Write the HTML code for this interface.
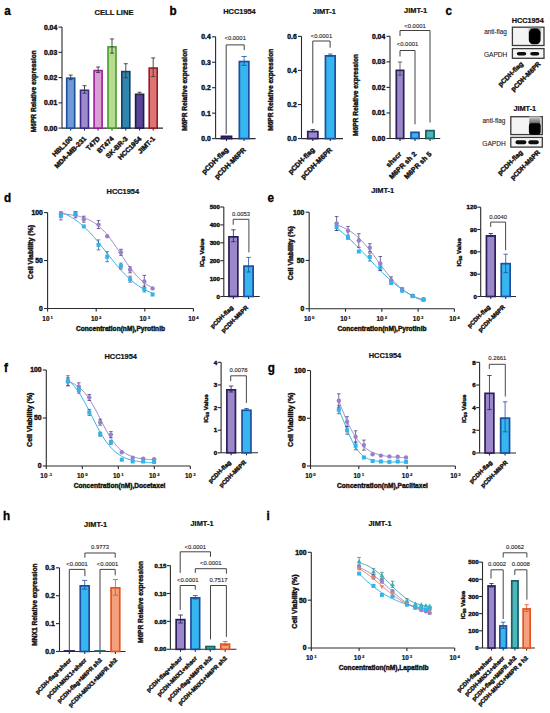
<!DOCTYPE html>
<html><head><meta charset="utf-8"><style>
html,body{margin:0;padding:0;background:#fff;overflow:hidden;}
svg{display:block;}
text{font-family:"Liberation Sans",sans-serif;}
</style></head><body>
<svg width="550" height="713" viewBox="0 0 550 713">
<rect width="550" height="713" fill="#fff"/>
<text transform="translate(4.20,14.50) scale(0.96,1)" font-size="12.2" font-weight="bold" fill="#000" stroke="#000" stroke-width="0.3">a</text>
<text x="114.00" y="14.54" font-size="7.6" font-weight="bold" text-anchor="middle" fill="#111" stroke="#111" stroke-width="0.22">CELL LINE</text>
<line x1="62.00" y1="27.10" x2="62.00" y2="128.10" stroke="#2a2a2a" stroke-width="1.1"/>
<line x1="58.50" y1="27.10" x2="62.00" y2="27.10" stroke="#2a2a2a" stroke-width="1.1"/>
<text x="57.20" y="29.55" font-size="6.8" font-weight="bold" text-anchor="end" fill="#111" stroke="#111" stroke-width="0.4">0.04</text>
<line x1="58.50" y1="52.35" x2="62.00" y2="52.35" stroke="#2a2a2a" stroke-width="1.1"/>
<text x="57.20" y="54.80" font-size="6.8" font-weight="bold" text-anchor="end" fill="#111" stroke="#111" stroke-width="0.4">0.03</text>
<line x1="58.50" y1="77.60" x2="62.00" y2="77.60" stroke="#2a2a2a" stroke-width="1.1"/>
<text x="57.20" y="80.05" font-size="6.8" font-weight="bold" text-anchor="end" fill="#111" stroke="#111" stroke-width="0.4">0.02</text>
<line x1="58.50" y1="102.85" x2="62.00" y2="102.85" stroke="#2a2a2a" stroke-width="1.1"/>
<text x="57.20" y="105.30" font-size="6.8" font-weight="bold" text-anchor="end" fill="#111" stroke="#111" stroke-width="0.4">0.01</text>
<line x1="58.50" y1="128.10" x2="62.00" y2="128.10" stroke="#2a2a2a" stroke-width="1.1"/>
<text x="57.20" y="130.55" font-size="6.8" font-weight="bold" text-anchor="end" fill="#111" stroke="#111" stroke-width="0.4">0.00</text>
<text x="36.38" y="91.20" font-size="6.6" font-weight="bold" text-anchor="middle" fill="#111" stroke="#111" stroke-width="0.4" transform="rotate(-90 36.38 91.20)">M6PR Relative expression</text>
<line x1="62.00" y1="128.10" x2="163.00" y2="128.10" stroke="#2a2a2a" stroke-width="1.1"/>
<line x1="70.70" y1="128.10" x2="70.70" y2="130.60" stroke="#2a2a2a" stroke-width="1.1"/>
<line x1="84.50" y1="128.10" x2="84.50" y2="130.60" stroke="#2a2a2a" stroke-width="1.1"/>
<line x1="98.10" y1="128.10" x2="98.10" y2="130.60" stroke="#2a2a2a" stroke-width="1.1"/>
<line x1="112.00" y1="128.10" x2="112.00" y2="130.60" stroke="#2a2a2a" stroke-width="1.1"/>
<line x1="125.80" y1="128.10" x2="125.80" y2="130.60" stroke="#2a2a2a" stroke-width="1.1"/>
<line x1="139.60" y1="128.10" x2="139.60" y2="130.60" stroke="#2a2a2a" stroke-width="1.1"/>
<line x1="153.20" y1="128.10" x2="153.20" y2="130.60" stroke="#2a2a2a" stroke-width="1.1"/>
<rect x="66.70" y="78.15" width="8.00" height="49.95" fill="#6e9ad6" stroke="#1f4e9c" stroke-width="1.6"/>
<line x1="70.70" y1="75.07" x2="70.70" y2="79.62" stroke="#3a3a3a" stroke-width="0.9"/>
<line x1="68.70" y1="75.07" x2="72.70" y2="75.07" stroke="#3a3a3a" stroke-width="0.9"/>
<line x1="68.70" y1="79.62" x2="72.70" y2="79.62" stroke="#3a3a3a" stroke-width="0.9"/>
<rect x="80.50" y="90.27" width="8.00" height="37.83" fill="#9d8ccb" stroke="#3a2a8a" stroke-width="1.6"/>
<line x1="84.50" y1="85.68" x2="84.50" y2="93.25" stroke="#3a3a3a" stroke-width="0.9"/>
<line x1="82.50" y1="85.68" x2="86.50" y2="85.68" stroke="#3a3a3a" stroke-width="0.9"/>
<line x1="82.50" y1="93.25" x2="86.50" y2="93.25" stroke="#3a3a3a" stroke-width="0.9"/>
<rect x="94.10" y="70.57" width="8.00" height="57.53" fill="#d99fd5" stroke="#9a1c9a" stroke-width="1.6"/>
<line x1="98.10" y1="67.00" x2="98.10" y2="72.55" stroke="#3a3a3a" stroke-width="0.9"/>
<line x1="96.10" y1="67.00" x2="100.10" y2="67.00" stroke="#3a3a3a" stroke-width="0.9"/>
<line x1="96.10" y1="72.55" x2="100.10" y2="72.55" stroke="#3a3a3a" stroke-width="0.9"/>
<rect x="108.00" y="46.84" width="8.00" height="81.26" fill="#b6dc90" stroke="#4a9a2e" stroke-width="1.6"/>
<line x1="112.00" y1="38.97" x2="112.00" y2="53.11" stroke="#3a3a3a" stroke-width="0.9"/>
<line x1="110.00" y1="38.97" x2="114.00" y2="38.97" stroke="#3a3a3a" stroke-width="0.9"/>
<line x1="110.00" y1="53.11" x2="114.00" y2="53.11" stroke="#3a3a3a" stroke-width="0.9"/>
<rect x="121.80" y="71.58" width="8.00" height="56.52" fill="#3186ad" stroke="#163f62" stroke-width="1.6"/>
<line x1="125.80" y1="63.71" x2="125.80" y2="77.85" stroke="#3a3a3a" stroke-width="0.9"/>
<line x1="123.80" y1="63.71" x2="127.80" y2="63.71" stroke="#3a3a3a" stroke-width="0.9"/>
<line x1="123.80" y1="77.85" x2="127.80" y2="77.85" stroke="#3a3a3a" stroke-width="0.9"/>
<rect x="135.60" y="94.31" width="8.00" height="33.79" fill="#5a4494" stroke="#241858" stroke-width="1.6"/>
<line x1="139.60" y1="92.24" x2="139.60" y2="94.77" stroke="#3a3a3a" stroke-width="0.9"/>
<line x1="137.60" y1="92.24" x2="141.60" y2="92.24" stroke="#3a3a3a" stroke-width="0.9"/>
<line x1="137.60" y1="94.77" x2="141.60" y2="94.77" stroke="#3a3a3a" stroke-width="0.9"/>
<rect x="149.20" y="68.05" width="8.00" height="60.05" fill="#e07474" stroke="#9a1a22" stroke-width="1.6"/>
<line x1="153.20" y1="57.91" x2="153.20" y2="76.59" stroke="#3a3a3a" stroke-width="0.9"/>
<line x1="151.20" y1="57.91" x2="155.20" y2="57.91" stroke="#3a3a3a" stroke-width="0.9"/>
<line x1="151.20" y1="76.59" x2="155.20" y2="76.59" stroke="#3a3a3a" stroke-width="0.9"/>
<text x="73.00" y="139.20" font-size="6.8" font-weight="bold" text-anchor="end" fill="#111" stroke="#111" stroke-width="0.4" transform="rotate(-45 73.00 139.20)">HBL100</text>
<text x="86.80" y="139.20" font-size="6.8" font-weight="bold" text-anchor="end" fill="#111" stroke="#111" stroke-width="0.4" transform="rotate(-45 86.80 139.20)">MDA-MB-231</text>
<text x="100.40" y="139.20" font-size="6.8" font-weight="bold" text-anchor="end" fill="#111" stroke="#111" stroke-width="0.4" transform="rotate(-45 100.40 139.20)">T47D</text>
<text x="114.30" y="139.20" font-size="6.8" font-weight="bold" text-anchor="end" fill="#111" stroke="#111" stroke-width="0.4" transform="rotate(-45 114.30 139.20)">BT474</text>
<text x="128.10" y="139.20" font-size="6.8" font-weight="bold" text-anchor="end" fill="#111" stroke="#111" stroke-width="0.4" transform="rotate(-45 128.10 139.20)">SK-BR-3</text>
<text x="141.90" y="139.20" font-size="6.8" font-weight="bold" text-anchor="end" fill="#111" stroke="#111" stroke-width="0.4" transform="rotate(-45 141.90 139.20)">HCC1954</text>
<text x="155.50" y="139.20" font-size="6.8" font-weight="bold" text-anchor="end" fill="#111" stroke="#111" stroke-width="0.4" transform="rotate(-45 155.50 139.20)">JIMT-1</text>
<text transform="translate(169.50,14.50) scale(0.96,1)" font-size="12.2" font-weight="bold" fill="#000" stroke="#000" stroke-width="0.3">b</text>
<text x="239.50" y="14.46" font-size="7.4" font-weight="bold" text-anchor="middle" fill="#111" stroke="#111" stroke-width="0.22">HCC1954</text>
<line x1="215.60" y1="36.80" x2="215.60" y2="138.60" stroke="#2a2a2a" stroke-width="1.1"/>
<line x1="212.10" y1="36.80" x2="215.60" y2="36.80" stroke="#2a2a2a" stroke-width="1.1"/>
<text x="210.80" y="39.25" font-size="6.8" font-weight="bold" text-anchor="end" fill="#111" stroke="#111" stroke-width="0.4">0.4</text>
<line x1="212.10" y1="62.25" x2="215.60" y2="62.25" stroke="#2a2a2a" stroke-width="1.1"/>
<text x="210.80" y="64.70" font-size="6.8" font-weight="bold" text-anchor="end" fill="#111" stroke="#111" stroke-width="0.4">0.3</text>
<line x1="212.10" y1="87.70" x2="215.60" y2="87.70" stroke="#2a2a2a" stroke-width="1.1"/>
<text x="210.80" y="90.15" font-size="6.8" font-weight="bold" text-anchor="end" fill="#111" stroke="#111" stroke-width="0.4">0.2</text>
<line x1="212.10" y1="113.15" x2="215.60" y2="113.15" stroke="#2a2a2a" stroke-width="1.1"/>
<text x="210.80" y="115.60" font-size="6.8" font-weight="bold" text-anchor="end" fill="#111" stroke="#111" stroke-width="0.4">0.1</text>
<line x1="212.10" y1="138.60" x2="215.60" y2="138.60" stroke="#2a2a2a" stroke-width="1.1"/>
<text x="210.80" y="141.05" font-size="6.8" font-weight="bold" text-anchor="end" fill="#111" stroke="#111" stroke-width="0.4">0.0</text>
<text x="186.78" y="89.80" font-size="6.6" font-weight="bold" text-anchor="middle" fill="#111" stroke="#111" stroke-width="0.4" transform="rotate(-90 186.78 89.80)">M6PR Relative expression</text>
<line x1="215.60" y1="138.60" x2="255.60" y2="138.60" stroke="#2a2a2a" stroke-width="1.1"/>
<line x1="226.50" y1="138.60" x2="226.50" y2="141.10" stroke="#2a2a2a" stroke-width="1.1"/>
<line x1="244.10" y1="138.60" x2="244.10" y2="141.10" stroke="#2a2a2a" stroke-width="1.1"/>
<rect x="221.45" y="136.35" width="10.10" height="2.25" fill="#4a3a8c" stroke="#231a55" stroke-width="1.7"/>
<rect x="239.35" y="61.55" width="9.50" height="77.05" fill="#36b5ee" stroke="#1d4f9f" stroke-width="1.7"/>
<line x1="244.10" y1="56.50" x2="244.10" y2="65.40" stroke="#1d4f9f" stroke-width="0.8"/>
<line x1="241.50" y1="56.50" x2="246.70" y2="56.50" stroke="#1d4f9f" stroke-width="0.8"/>
<line x1="241.50" y1="65.40" x2="246.70" y2="65.40" stroke="#1d4f9f" stroke-width="0.8"/>
<path d="M226.20,134.00 L226.20,44.90 L244.20,44.90 L244.20,50.20" stroke="#2e2e2e" stroke-width="0.9" fill="none" />
<text x="235.20" y="39.72" font-size="5.9" font-weight="normal" text-anchor="middle" fill="#222" stroke="#222" stroke-width="0.1">&lt;0.0001</text>
<text x="228.80" y="150.30" font-size="7" font-weight="bold" text-anchor="end" fill="#111" stroke="#111" stroke-width="0.4" transform="rotate(-45 228.80 150.30)">pCDH-flag</text>
<text x="246.40" y="150.30" font-size="7" font-weight="bold" text-anchor="end" fill="#111" stroke="#111" stroke-width="0.4" transform="rotate(-45 246.40 150.30)">pCDH-M6PR</text>
<text x="324.30" y="14.46" font-size="7.4" font-weight="bold" text-anchor="middle" fill="#111" stroke="#111" stroke-width="0.22">JIMT-1</text>
<line x1="301.50" y1="36.39" x2="301.50" y2="138.60" stroke="#2a2a2a" stroke-width="1.1"/>
<line x1="298.00" y1="36.39" x2="301.50" y2="36.39" stroke="#2a2a2a" stroke-width="1.1"/>
<text x="296.70" y="38.84" font-size="6.8" font-weight="bold" text-anchor="end" fill="#111" stroke="#111" stroke-width="0.4">0.6</text>
<line x1="298.00" y1="70.46" x2="301.50" y2="70.46" stroke="#2a2a2a" stroke-width="1.1"/>
<text x="296.70" y="72.91" font-size="6.8" font-weight="bold" text-anchor="end" fill="#111" stroke="#111" stroke-width="0.4">0.4</text>
<line x1="298.00" y1="104.53" x2="301.50" y2="104.53" stroke="#2a2a2a" stroke-width="1.1"/>
<text x="296.70" y="106.98" font-size="6.8" font-weight="bold" text-anchor="end" fill="#111" stroke="#111" stroke-width="0.4">0.2</text>
<line x1="298.00" y1="138.60" x2="301.50" y2="138.60" stroke="#2a2a2a" stroke-width="1.1"/>
<text x="296.70" y="141.05" font-size="6.8" font-weight="bold" text-anchor="end" fill="#111" stroke="#111" stroke-width="0.4">0.0</text>
<text x="273.08" y="89.80" font-size="6.6" font-weight="bold" text-anchor="middle" fill="#111" stroke="#111" stroke-width="0.4" transform="rotate(-90 273.08 89.80)">M6PR Relative expression</text>
<line x1="301.50" y1="138.60" x2="343.00" y2="138.60" stroke="#2a2a2a" stroke-width="1.1"/>
<line x1="312.80" y1="138.60" x2="312.80" y2="141.10" stroke="#2a2a2a" stroke-width="1.1"/>
<line x1="330.30" y1="138.60" x2="330.30" y2="141.10" stroke="#2a2a2a" stroke-width="1.1"/>
<rect x="307.75" y="131.55" width="10.10" height="7.05" fill="#9c88c8" stroke="#2b1f5c" stroke-width="1.7"/>
<line x1="312.80" y1="129.50" x2="312.80" y2="131.50" stroke="#2b1f5c" stroke-width="0.8"/>
<line x1="310.60" y1="129.50" x2="315.00" y2="129.50" stroke="#2b1f5c" stroke-width="0.8"/>
<line x1="310.60" y1="131.50" x2="315.00" y2="131.50" stroke="#2b1f5c" stroke-width="0.8"/>
<rect x="325.45" y="55.85" width="9.70" height="82.75" fill="#36b5ee" stroke="#1d4f9f" stroke-width="1.7"/>
<line x1="330.30" y1="54.00" x2="330.30" y2="56.00" stroke="#1d4f9f" stroke-width="0.8"/>
<line x1="328.10" y1="54.00" x2="332.50" y2="54.00" stroke="#1d4f9f" stroke-width="0.8"/>
<line x1="328.10" y1="56.00" x2="332.50" y2="56.00" stroke="#1d4f9f" stroke-width="0.8"/>
<path d="M312.80,123.40 L312.80,41.00 L330.10,41.00 L330.10,47.70" stroke="#2e2e2e" stroke-width="0.9" fill="none" />
<text x="321.45" y="37.52" font-size="5.9" font-weight="normal" text-anchor="middle" fill="#222" stroke="#222" stroke-width="0.1">&lt;0.0001</text>
<text x="315.10" y="150.30" font-size="7" font-weight="bold" text-anchor="end" fill="#111" stroke="#111" stroke-width="0.4" transform="rotate(-45 315.10 150.30)">pCDH-flag</text>
<text x="332.60" y="150.30" font-size="7" font-weight="bold" text-anchor="end" fill="#111" stroke="#111" stroke-width="0.4" transform="rotate(-45 332.60 150.30)">pCDH-M6PR</text>
<text x="415.60" y="13.26" font-size="7.4" font-weight="bold" text-anchor="middle" fill="#111" stroke="#111" stroke-width="0.22">JIMT-1</text>
<line x1="390.00" y1="36.30" x2="390.00" y2="138.50" stroke="#2a2a2a" stroke-width="1.1"/>
<line x1="386.50" y1="36.30" x2="390.00" y2="36.30" stroke="#2a2a2a" stroke-width="1.1"/>
<text x="385.20" y="38.75" font-size="6.8" font-weight="bold" text-anchor="end" fill="#111" stroke="#111" stroke-width="0.4">0.04</text>
<line x1="386.50" y1="61.85" x2="390.00" y2="61.85" stroke="#2a2a2a" stroke-width="1.1"/>
<text x="385.20" y="64.30" font-size="6.8" font-weight="bold" text-anchor="end" fill="#111" stroke="#111" stroke-width="0.4">0.03</text>
<line x1="386.50" y1="87.40" x2="390.00" y2="87.40" stroke="#2a2a2a" stroke-width="1.1"/>
<text x="385.20" y="89.85" font-size="6.8" font-weight="bold" text-anchor="end" fill="#111" stroke="#111" stroke-width="0.4">0.02</text>
<line x1="386.50" y1="112.95" x2="390.00" y2="112.95" stroke="#2a2a2a" stroke-width="1.1"/>
<text x="385.20" y="115.40" font-size="6.8" font-weight="bold" text-anchor="end" fill="#111" stroke="#111" stroke-width="0.4">0.01</text>
<line x1="386.50" y1="138.50" x2="390.00" y2="138.50" stroke="#2a2a2a" stroke-width="1.1"/>
<text x="385.20" y="140.95" font-size="6.8" font-weight="bold" text-anchor="end" fill="#111" stroke="#111" stroke-width="0.4">0.00</text>
<text x="357.58" y="94.90" font-size="6.6" font-weight="bold" text-anchor="middle" fill="#111" stroke="#111" stroke-width="0.4" transform="rotate(-90 357.58 94.90)">M6PR Relative expression</text>
<line x1="390.00" y1="138.50" x2="440.20" y2="138.50" stroke="#2a2a2a" stroke-width="1.1"/>
<line x1="400.00" y1="138.50" x2="400.00" y2="141.00" stroke="#2a2a2a" stroke-width="1.1"/>
<line x1="415.00" y1="138.50" x2="415.00" y2="141.00" stroke="#2a2a2a" stroke-width="1.1"/>
<line x1="430.00" y1="138.50" x2="430.00" y2="141.00" stroke="#2a2a2a" stroke-width="1.1"/>
<rect x="396.30" y="70.36" width="7.40" height="68.14" fill="#9c88c8" stroke="#2b1f5c" stroke-width="1.7"/>
<line x1="400.00" y1="62.00" x2="400.00" y2="75.10" stroke="#444" stroke-width="0.8"/>
<line x1="397.80" y1="62.00" x2="402.20" y2="62.00" stroke="#444" stroke-width="0.8"/>
<line x1="397.80" y1="75.10" x2="402.20" y2="75.10" stroke="#444" stroke-width="0.8"/>
<rect x="411.00" y="132.35" width="8.00" height="6.15" fill="#36b5ee" stroke="#1d4f9f" stroke-width="1.7"/>
<rect x="425.90" y="130.65" width="8.20" height="7.85" fill="#4cb6b8" stroke="#1b5f66" stroke-width="1.7"/>
<path d="M400.00,56.50 L400.00,50.50 L415.00,50.50 L415.00,124.30" stroke="#2e2e2e" stroke-width="0.9" fill="none" />
<text x="407.50" y="46.22" font-size="5.9" font-weight="normal" text-anchor="middle" fill="#222" stroke="#222" stroke-width="0.1">&lt;0.0001</text>
<path d="M400.00,36.00 L400.00,30.50 L430.00,30.50 L430.00,122.50" stroke="#2e2e2e" stroke-width="0.9" fill="none" />
<text x="415.00" y="28.42" font-size="5.9" font-weight="normal" text-anchor="middle" fill="#222" stroke="#222" stroke-width="0.1">&lt;0.0001</text>
<text x="402.00" y="154.50" font-size="7" font-weight="bold" text-anchor="end" fill="#111" stroke="#111" stroke-width="0.4" transform="rotate(-45 402.00 154.50)">shscr</text>
<text x="417.00" y="154.50" font-size="7" font-weight="bold" text-anchor="end" fill="#111" stroke="#111" stroke-width="0.4" transform="rotate(-45 417.00 154.50)">M6PR sh 2</text>
<text x="432.00" y="154.50" font-size="7" font-weight="bold" text-anchor="end" fill="#111" stroke="#111" stroke-width="0.4" transform="rotate(-45 432.00 154.50)">M6PR sh 5</text>
<text transform="translate(445.50,15.00) scale(0.96,1)" font-size="12.2" font-weight="bold" fill="#000" stroke="#000" stroke-width="0.3">c</text>
<defs><filter id="bl" x="-30%" y="-30%" width="160%" height="160%"><feGaussianBlur stdDeviation="0.6"/></filter><filter id="bl3" x="-30%" y="-30%" width="160%" height="160%"><feGaussianBlur stdDeviation="0.35"/></filter><filter id="bl2" x="-30%" y="-30%" width="160%" height="160%"><feGaussianBlur stdDeviation="1.0"/></filter><linearGradient id="sm" x1="0" y1="0" x2="0" y2="1"><stop offset="0" stop-color="#cfcfcf"/><stop offset="0.6" stop-color="#777"/><stop offset="1" stop-color="#222"/></linearGradient></defs>
<text x="527.70" y="22.83" font-size="7.3" font-weight="bold" text-anchor="middle" fill="#111" stroke="#111" stroke-width="0.22">HCC1954</text>
<rect x="512.40" y="27.20" width="31.60" height="18.30" fill="#f4f4f4" stroke="#3a3a3a" stroke-width="1.3"/>
<rect x="512.40" y="48.60" width="31.60" height="9.70" fill="#f4f4f4" stroke="#3a3a3a" stroke-width="1.3"/>
<rect x="529.4" y="27" width="11" height="7" fill="#888" filter="url(#bl2)"/><rect x="528.8" y="28.6" width="11.8" height="15.6" rx="4.5" ry="4.5" fill="#050505" filter="url(#bl)"/>
<rect x="516.80" y="52.00" width="9.50" height="3.40" rx="2.2" ry="1.7" fill="#0a0a0a" filter="url(#bl3)"/>
<rect x="530.20" y="52.00" width="9.10" height="3.40" rx="2.2" ry="1.7" fill="#0a0a0a" filter="url(#bl3)"/>
<text x="506.90" y="33.70" font-size="6.4" font-weight="normal" text-anchor="end" fill="#222" stroke="#222" stroke-width="0.1">anti-flag</text>
<text x="507.40" y="56.68" font-size="6.6" font-weight="normal" text-anchor="end" fill="#222" stroke="#222" stroke-width="0.1">GAPDH</text>
<text x="524.80" y="110.83" font-size="7.3" font-weight="bold" text-anchor="middle" fill="#111" stroke="#111" stroke-width="0.22">JIMT-1</text>
<rect x="510.80" y="116.70" width="31.50" height="17.90" fill="#f4f4f4" stroke="#3a3a3a" stroke-width="1.3"/>
<rect x="510.80" y="137.40" width="31.50" height="9.70" fill="#f4f4f4" stroke="#3a3a3a" stroke-width="1.3"/>
<rect x="529.2" y="116.5" width="11.2" height="9.5" fill="url(#sm)" filter="url(#bl)"/><rect x="528.9" y="123.2" width="11.8" height="11.6" rx="3" ry="3" fill="#050505" filter="url(#bl)"/>
<rect x="515.50" y="140.30" width="10.80" height="3.90" rx="2.2" ry="1.7" fill="#0a0a0a" filter="url(#bl3)"/>
<rect x="528.30" y="140.30" width="10.50" height="3.90" rx="2.2" ry="1.7" fill="#0a0a0a" filter="url(#bl3)"/>
<text x="505.30" y="122.80" font-size="6.4" font-weight="normal" text-anchor="end" fill="#222" stroke="#222" stroke-width="0.1">anti-flag</text>
<text x="505.80" y="146.28" font-size="6.6" font-weight="normal" text-anchor="end" fill="#222" stroke="#222" stroke-width="0.1">GAPDH</text>
<text x="523.50" y="64.30" font-size="6.6" font-weight="bold" text-anchor="end" fill="#111" stroke="#111" stroke-width="0.4" transform="rotate(-45 523.50 64.30)">pCDH-flag</text>
<text x="541.00" y="64.30" font-size="6.6" font-weight="bold" text-anchor="end" fill="#111" stroke="#111" stroke-width="0.4" transform="rotate(-45 541.00 64.30)">pCDH-M6PR</text>
<text x="523.00" y="152.80" font-size="6.6" font-weight="bold" text-anchor="end" fill="#111" stroke="#111" stroke-width="0.4" transform="rotate(-45 523.00 152.80)">pCDH-flag</text>
<text x="540.50" y="152.80" font-size="6.6" font-weight="bold" text-anchor="end" fill="#111" stroke="#111" stroke-width="0.4" transform="rotate(-45 540.50 152.80)">pCDH-M6PR</text>
<text transform="translate(4.00,201.50) scale(0.96,1)" font-size="12.2" font-weight="bold" fill="#000" stroke="#000" stroke-width="0.3">d</text>
<text x="122.80" y="193.66" font-size="7.4" font-weight="bold" text-anchor="middle" fill="#111" stroke="#111" stroke-width="0.22">HCC1954</text>
<line x1="47.60" y1="212.60" x2="47.60" y2="308.50" stroke="#2a2a2a" stroke-width="1.1"/>
<line x1="44.10" y1="212.60" x2="47.60" y2="212.60" stroke="#2a2a2a" stroke-width="1.1"/>
<text x="42.80" y="215.05" font-size="6.8" font-weight="bold" text-anchor="end" fill="#111" stroke="#111" stroke-width="0.4">100</text>
<line x1="44.10" y1="260.55" x2="47.60" y2="260.55" stroke="#2a2a2a" stroke-width="1.1"/>
<text x="42.80" y="263.00" font-size="6.8" font-weight="bold" text-anchor="end" fill="#111" stroke="#111" stroke-width="0.4">50</text>
<line x1="44.10" y1="308.50" x2="47.60" y2="308.50" stroke="#2a2a2a" stroke-width="1.1"/>
<text x="42.80" y="310.95" font-size="6.8" font-weight="bold" text-anchor="end" fill="#111" stroke="#111" stroke-width="0.4">0</text>
<line x1="47.60" y1="308.50" x2="193.40" y2="308.50" stroke="#2a2a2a" stroke-width="1.1"/>
<line x1="47.60" y1="308.50" x2="47.60" y2="311.50" stroke="#2a2a2a" stroke-width="1.1"/>
<line x1="96.20" y1="308.50" x2="96.20" y2="311.50" stroke="#2a2a2a" stroke-width="1.1"/>
<line x1="144.80" y1="308.50" x2="144.80" y2="311.50" stroke="#2a2a2a" stroke-width="1.1"/>
<line x1="193.40" y1="308.50" x2="193.40" y2="311.50" stroke="#2a2a2a" stroke-width="1.1"/>
<text x="42.35" y="321.40" font-size="6.4" font-weight="bold" fill="#111" stroke="#111" stroke-width="0.2">10</text>
<text x="50.46" y="319.00" font-size="4.3" font-weight="bold" fill="#111" stroke="#111" stroke-width="0.15">1</text>
<text x="90.95" y="321.40" font-size="6.4" font-weight="bold" fill="#111" stroke="#111" stroke-width="0.2">10</text>
<text x="99.06" y="319.00" font-size="4.3" font-weight="bold" fill="#111" stroke="#111" stroke-width="0.15">2</text>
<text x="139.55" y="321.40" font-size="6.4" font-weight="bold" fill="#111" stroke="#111" stroke-width="0.2">10</text>
<text x="147.66" y="319.00" font-size="4.3" font-weight="bold" fill="#111" stroke="#111" stroke-width="0.15">3</text>
<text x="188.15" y="321.40" font-size="6.4" font-weight="bold" fill="#111" stroke="#111" stroke-width="0.2">10</text>
<text x="196.26" y="319.00" font-size="4.3" font-weight="bold" fill="#111" stroke="#111" stroke-width="0.15">4</text>
<text x="32.82" y="252.00" font-size="7.0" font-weight="bold" text-anchor="middle" fill="#111" stroke="#111" stroke-width="0.4" transform="rotate(-90 32.82 252.00)">Cell Viability (%)</text>
<text x="120.50" y="331.38" font-size="6.6" font-weight="bold" text-anchor="middle" fill="#111" stroke="#111" stroke-width="0.4">Concentration(nM),Pyrotinib</text>
<path d="M60.90,213.81 L62.06,213.90 L63.22,213.99 L64.38,214.08 L65.54,214.19 L66.70,214.30 L67.86,214.43 L69.03,214.56 L70.19,214.71 L71.35,214.87 L72.51,215.05 L73.67,215.24 L74.83,215.44 L75.99,215.67 L77.15,215.91 L78.31,216.17 L79.47,216.46 L80.63,216.76 L81.79,217.10 L82.95,217.46 L84.12,217.85 L85.28,218.27 L86.44,218.72 L87.60,219.21 L88.76,219.74 L89.92,220.31 L91.08,220.92 L92.24,221.57 L93.40,222.27 L94.56,223.02 L95.72,223.82 L96.88,224.67 L98.04,225.58 L99.21,226.54 L100.37,227.56 L101.53,228.64 L102.69,229.78 L103.85,230.98 L105.01,232.24 L106.17,233.55 L107.33,234.93 L108.49,236.36 L109.65,237.85 L110.81,239.38 L111.97,240.97 L113.13,242.60 L114.29,244.27 L115.46,245.97 L116.62,247.70 L117.78,249.45 L118.94,251.22 L120.10,253.00 L121.26,254.78 L122.42,256.56 L123.58,258.32 L124.74,260.07 L125.90,261.80 L127.06,263.49 L128.22,265.15 L129.38,266.77 L130.55,268.35 L131.71,269.88 L132.87,271.35 L134.03,272.77 L135.19,274.14 L136.35,275.44 L137.51,276.69 L138.67,277.87 L139.83,279.00 L140.99,280.07 L142.15,281.08 L143.31,282.03 L144.47,282.92 L145.64,283.76 L146.80,284.55 L147.96,285.29 L149.12,285.98 L150.28,286.63 L151.44,287.23 L152.60,287.79" stroke="#a08acb" stroke-width="1.0" fill="none" />
<path d="M60.90,212.14 L62.06,212.60 L63.22,213.08 L64.38,213.59 L65.54,214.13 L66.70,214.70 L67.86,215.29 L69.03,215.91 L70.19,216.55 L71.35,217.23 L72.51,217.94 L73.67,218.68 L74.83,219.46 L75.99,220.26 L77.15,221.10 L78.31,221.98 L79.47,222.88 L80.63,223.83 L81.79,224.80 L82.95,225.82 L84.12,226.86 L85.28,227.95 L86.44,229.06 L87.60,230.21 L88.76,231.39 L89.92,232.61 L91.08,233.85 L92.24,235.12 L93.40,236.43 L94.56,237.76 L95.72,239.11 L96.88,240.49 L98.04,241.89 L99.21,243.31 L100.37,244.74 L101.53,246.19 L102.69,247.65 L103.85,249.12 L105.01,250.60 L106.17,252.08 L107.33,253.56 L108.49,255.04 L109.65,256.51 L110.81,257.98 L111.97,259.43 L113.13,260.88 L114.29,262.31 L115.46,263.72 L116.62,265.12 L117.78,266.49 L118.94,267.83 L120.10,269.16 L121.26,270.45 L122.42,271.72 L123.58,272.95 L124.74,274.16 L125.90,275.33 L127.06,276.47 L128.22,277.58 L129.38,278.65 L130.55,279.69 L131.71,280.69 L132.87,281.66 L134.03,282.59 L135.19,283.49 L136.35,284.35 L137.51,285.18 L138.67,285.98 L139.83,286.74 L140.99,287.47 L142.15,288.17 L143.31,288.84 L144.47,289.48 L145.64,290.10 L146.80,290.68 L147.96,291.23 L149.12,291.76 L150.28,292.27 L151.44,292.75 L152.60,293.20" stroke="#2bb3e3" stroke-width="1.0" fill="none" />
<line x1="60.90" y1="212.20" x2="60.90" y2="215.20" stroke="#3a2d6a" stroke-width="0.7"/>
<line x1="59.10" y1="212.20" x2="62.70" y2="212.20" stroke="#3a2d6a" stroke-width="0.7"/>
<line x1="59.10" y1="215.20" x2="62.70" y2="215.20" stroke="#3a2d6a" stroke-width="0.7"/>
<line x1="75.50" y1="211.80" x2="75.50" y2="217.80" stroke="#3a2d6a" stroke-width="0.7"/>
<line x1="73.70" y1="211.80" x2="77.30" y2="211.80" stroke="#3a2d6a" stroke-width="0.7"/>
<line x1="73.70" y1="217.80" x2="77.30" y2="217.80" stroke="#3a2d6a" stroke-width="0.7"/>
<line x1="83.80" y1="216.20" x2="83.80" y2="222.20" stroke="#3a2d6a" stroke-width="0.7"/>
<line x1="82.00" y1="216.20" x2="85.60" y2="216.20" stroke="#3a2d6a" stroke-width="0.7"/>
<line x1="82.00" y1="222.20" x2="85.60" y2="222.20" stroke="#3a2d6a" stroke-width="0.7"/>
<line x1="98.50" y1="220.60" x2="98.50" y2="228.60" stroke="#3a2d6a" stroke-width="0.7"/>
<line x1="96.70" y1="220.60" x2="100.30" y2="220.60" stroke="#3a2d6a" stroke-width="0.7"/>
<line x1="96.70" y1="228.60" x2="100.30" y2="228.60" stroke="#3a2d6a" stroke-width="0.7"/>
<line x1="120.90" y1="249.30" x2="120.90" y2="255.30" stroke="#3a2d6a" stroke-width="0.7"/>
<line x1="119.10" y1="249.30" x2="122.70" y2="249.30" stroke="#3a2d6a" stroke-width="0.7"/>
<line x1="119.10" y1="255.30" x2="122.70" y2="255.30" stroke="#3a2d6a" stroke-width="0.7"/>
<line x1="130.10" y1="266.80" x2="130.10" y2="272.80" stroke="#3a2d6a" stroke-width="0.7"/>
<line x1="128.30" y1="266.80" x2="131.90" y2="266.80" stroke="#3a2d6a" stroke-width="0.7"/>
<line x1="128.30" y1="272.80" x2="131.90" y2="272.80" stroke="#3a2d6a" stroke-width="0.7"/>
<line x1="144.30" y1="275.40" x2="144.30" y2="287.40" stroke="#3a2d6a" stroke-width="0.7"/>
<line x1="142.50" y1="275.40" x2="146.10" y2="275.40" stroke="#3a2d6a" stroke-width="0.7"/>
<line x1="142.50" y1="287.40" x2="146.10" y2="287.40" stroke="#3a2d6a" stroke-width="0.7"/>
<line x1="60.90" y1="211.90" x2="60.90" y2="219.90" stroke="#3a4a7a" stroke-width="0.7"/>
<line x1="59.10" y1="211.90" x2="62.70" y2="211.90" stroke="#3a4a7a" stroke-width="0.7"/>
<line x1="59.10" y1="219.90" x2="62.70" y2="219.90" stroke="#3a4a7a" stroke-width="0.7"/>
<line x1="75.50" y1="211.70" x2="75.50" y2="215.70" stroke="#3a4a7a" stroke-width="0.7"/>
<line x1="73.70" y1="211.70" x2="77.30" y2="211.70" stroke="#3a4a7a" stroke-width="0.7"/>
<line x1="73.70" y1="215.70" x2="77.30" y2="215.70" stroke="#3a4a7a" stroke-width="0.7"/>
<line x1="98.50" y1="239.90" x2="98.50" y2="249.90" stroke="#3a4a7a" stroke-width="0.7"/>
<line x1="96.70" y1="239.90" x2="100.30" y2="239.90" stroke="#3a4a7a" stroke-width="0.7"/>
<line x1="96.70" y1="249.90" x2="100.30" y2="249.90" stroke="#3a4a7a" stroke-width="0.7"/>
<line x1="107.20" y1="251.70" x2="107.20" y2="261.70" stroke="#3a4a7a" stroke-width="0.7"/>
<line x1="105.40" y1="251.70" x2="109.00" y2="251.70" stroke="#3a4a7a" stroke-width="0.7"/>
<line x1="105.40" y1="261.70" x2="109.00" y2="261.70" stroke="#3a4a7a" stroke-width="0.7"/>
<line x1="120.90" y1="263.10" x2="120.90" y2="269.10" stroke="#3a4a7a" stroke-width="0.7"/>
<line x1="119.10" y1="263.10" x2="122.70" y2="263.10" stroke="#3a4a7a" stroke-width="0.7"/>
<line x1="119.10" y1="269.10" x2="122.70" y2="269.10" stroke="#3a4a7a" stroke-width="0.7"/>
<line x1="130.10" y1="276.20" x2="130.10" y2="282.20" stroke="#3a4a7a" stroke-width="0.7"/>
<line x1="128.30" y1="276.20" x2="131.90" y2="276.20" stroke="#3a4a7a" stroke-width="0.7"/>
<line x1="128.30" y1="282.20" x2="131.90" y2="282.20" stroke="#3a4a7a" stroke-width="0.7"/>
<line x1="144.30" y1="286.00" x2="144.30" y2="292.00" stroke="#3a4a7a" stroke-width="0.7"/>
<line x1="142.50" y1="286.00" x2="146.10" y2="286.00" stroke="#3a4a7a" stroke-width="0.7"/>
<line x1="142.50" y1="292.00" x2="146.10" y2="292.00" stroke="#3a4a7a" stroke-width="0.7"/>
<circle cx="60.90" cy="213.70" r="2.20" fill="#9a80c8"/>
<circle cx="75.50" cy="214.80" r="2.20" fill="#9a80c8"/>
<circle cx="83.80" cy="219.20" r="2.20" fill="#9a80c8"/>
<circle cx="98.50" cy="224.60" r="2.20" fill="#9a80c8"/>
<circle cx="107.20" cy="236.20" r="2.20" fill="#9a80c8"/>
<circle cx="120.90" cy="252.30" r="2.20" fill="#9a80c8"/>
<circle cx="130.10" cy="269.80" r="2.20" fill="#9a80c8"/>
<circle cx="144.30" cy="281.40" r="2.20" fill="#9a80c8"/>
<circle cx="152.60" cy="288.40" r="2.20" fill="#9a80c8"/>
<rect x="58.90" y="213.90" width="4.00" height="4.00" fill="#31b3ec"/>
<rect x="73.50" y="211.70" width="4.00" height="4.00" fill="#31b3ec"/>
<rect x="81.80" y="224.40" width="4.00" height="4.00" fill="#31b3ec"/>
<rect x="96.50" y="242.90" width="4.00" height="4.00" fill="#31b3ec"/>
<rect x="105.20" y="254.70" width="4.00" height="4.00" fill="#31b3ec"/>
<rect x="118.90" y="264.10" width="4.00" height="4.00" fill="#31b3ec"/>
<rect x="128.10" y="277.20" width="4.00" height="4.00" fill="#31b3ec"/>
<rect x="142.30" y="287.00" width="4.00" height="4.00" fill="#31b3ec"/>
<rect x="150.60" y="292.50" width="4.00" height="4.00" fill="#31b3ec"/>
<line x1="223.80" y1="207.00" x2="223.80" y2="296.50" stroke="#2a2a2a" stroke-width="1.1"/>
<line x1="220.40" y1="207.00" x2="223.80" y2="207.00" stroke="#2a2a2a" stroke-width="1.1"/>
<text x="220.00" y="209.23" font-size="6.2" font-weight="bold" text-anchor="end" fill="#111" stroke="#111" stroke-width="0.4">500</text>
<line x1="220.40" y1="224.90" x2="223.80" y2="224.90" stroke="#2a2a2a" stroke-width="1.1"/>
<text x="220.00" y="227.13" font-size="6.2" font-weight="bold" text-anchor="end" fill="#111" stroke="#111" stroke-width="0.4">400</text>
<line x1="220.40" y1="242.80" x2="223.80" y2="242.80" stroke="#2a2a2a" stroke-width="1.1"/>
<text x="220.00" y="245.03" font-size="6.2" font-weight="bold" text-anchor="end" fill="#111" stroke="#111" stroke-width="0.4">300</text>
<line x1="220.40" y1="260.70" x2="223.80" y2="260.70" stroke="#2a2a2a" stroke-width="1.1"/>
<text x="220.00" y="262.93" font-size="6.2" font-weight="bold" text-anchor="end" fill="#111" stroke="#111" stroke-width="0.4">200</text>
<line x1="220.40" y1="278.60" x2="223.80" y2="278.60" stroke="#2a2a2a" stroke-width="1.1"/>
<text x="220.00" y="280.83" font-size="6.2" font-weight="bold" text-anchor="end" fill="#111" stroke="#111" stroke-width="0.4">100</text>
<line x1="220.40" y1="296.50" x2="223.80" y2="296.50" stroke="#2a2a2a" stroke-width="1.1"/>
<text x="220.00" y="298.73" font-size="6.2" font-weight="bold" text-anchor="end" fill="#111" stroke="#111" stroke-width="0.4">0</text>
<text x="233.60" y="308.00" font-size="6.0" font-weight="bold" text-anchor="end" fill="#111" stroke="#111" stroke-width="0.4" transform="rotate(-45 233.60 308.00)">pCDH-flag</text>
<text x="248.60" y="308.00" font-size="6.0" font-weight="bold" text-anchor="end" fill="#111" stroke="#111" stroke-width="0.4" transform="rotate(-45 248.60 308.00)">pCDH-M6PR</text>
<line x1="223.80" y1="296.50" x2="259.70" y2="296.50" stroke="#2a2a2a" stroke-width="1.1"/>
<line x1="233.40" y1="296.50" x2="233.40" y2="299.00" stroke="#2a2a2a" stroke-width="1.1"/>
<line x1="248.55" y1="296.50" x2="248.55" y2="299.00" stroke="#2a2a2a" stroke-width="1.1"/>
<rect x="228.95" y="236.85" width="8.90" height="59.65" fill="#9c88c8" stroke="#2b1f5c" stroke-width="1.7"/>
<line x1="233.40" y1="229.80" x2="233.40" y2="241.70" stroke="#2b1f5c" stroke-width="0.8"/>
<line x1="231.20" y1="229.80" x2="235.60" y2="229.80" stroke="#2b1f5c" stroke-width="0.8"/>
<line x1="231.20" y1="241.70" x2="235.60" y2="241.70" stroke="#2b1f5c" stroke-width="0.8"/>
<rect x="243.95" y="266.15" width="9.20" height="30.35" fill="#36b5ee" stroke="#1d4f9f" stroke-width="1.7"/>
<line x1="248.55" y1="257.40" x2="248.55" y2="272.00" stroke="#1d4f9f" stroke-width="0.8"/>
<line x1="246.35" y1="257.40" x2="250.75" y2="257.40" stroke="#1d4f9f" stroke-width="0.8"/>
<line x1="246.35" y1="272.00" x2="250.75" y2="272.00" stroke="#1d4f9f" stroke-width="0.8"/>
<path d="M233.20,224.70 L233.20,219.30 L248.90,219.30 L248.90,252.40" stroke="#333" stroke-width="0.9" fill="none" />
<text x="241.05" y="215.92" font-size="5.9" font-weight="normal" text-anchor="middle" fill="#222" stroke="#222" stroke-width="0.1">0.0053</text>
<text transform="translate(201.60,252.80) rotate(-90)" font-size="6.1" font-weight="bold" text-anchor="middle" fill="#111" stroke="#111" stroke-width="0.4" y="2.2">IC<tspan font-size="4.2" dy="1.2">50</tspan><tspan dy="-1.2"> Value</tspan></text>
<text transform="translate(267.50,201.60) scale(0.96,1)" font-size="12.2" font-weight="bold" fill="#000" stroke="#000" stroke-width="0.3">e</text>
<text x="382.70" y="192.56" font-size="7.4" font-weight="bold" text-anchor="middle" fill="#111" stroke="#111" stroke-width="0.22">JIMT-1</text>
<line x1="309.20" y1="212.20" x2="309.20" y2="308.70" stroke="#2a2a2a" stroke-width="1.1"/>
<line x1="305.70" y1="212.20" x2="309.20" y2="212.20" stroke="#2a2a2a" stroke-width="1.1"/>
<text x="304.40" y="214.65" font-size="6.8" font-weight="bold" text-anchor="end" fill="#111" stroke="#111" stroke-width="0.4">100</text>
<line x1="305.70" y1="260.45" x2="309.20" y2="260.45" stroke="#2a2a2a" stroke-width="1.1"/>
<text x="304.40" y="262.90" font-size="6.8" font-weight="bold" text-anchor="end" fill="#111" stroke="#111" stroke-width="0.4">50</text>
<line x1="305.70" y1="308.70" x2="309.20" y2="308.70" stroke="#2a2a2a" stroke-width="1.1"/>
<text x="304.40" y="311.15" font-size="6.8" font-weight="bold" text-anchor="end" fill="#111" stroke="#111" stroke-width="0.4">0</text>
<line x1="309.20" y1="308.70" x2="454.40" y2="308.70" stroke="#2a2a2a" stroke-width="1.1"/>
<line x1="309.20" y1="308.70" x2="309.20" y2="311.70" stroke="#2a2a2a" stroke-width="1.1"/>
<line x1="345.50" y1="308.70" x2="345.50" y2="311.70" stroke="#2a2a2a" stroke-width="1.1"/>
<line x1="381.80" y1="308.70" x2="381.80" y2="311.70" stroke="#2a2a2a" stroke-width="1.1"/>
<line x1="418.10" y1="308.70" x2="418.10" y2="311.70" stroke="#2a2a2a" stroke-width="1.1"/>
<line x1="454.40" y1="308.70" x2="454.40" y2="311.70" stroke="#2a2a2a" stroke-width="1.1"/>
<text x="303.95" y="321.40" font-size="6.4" font-weight="bold" fill="#111" stroke="#111" stroke-width="0.2">10</text>
<text x="312.06" y="319.00" font-size="4.3" font-weight="bold" fill="#111" stroke="#111" stroke-width="0.15">0</text>
<text x="340.25" y="321.40" font-size="6.4" font-weight="bold" fill="#111" stroke="#111" stroke-width="0.2">10</text>
<text x="348.36" y="319.00" font-size="4.3" font-weight="bold" fill="#111" stroke="#111" stroke-width="0.15">1</text>
<text x="376.55" y="321.40" font-size="6.4" font-weight="bold" fill="#111" stroke="#111" stroke-width="0.2">10</text>
<text x="384.66" y="319.00" font-size="4.3" font-weight="bold" fill="#111" stroke="#111" stroke-width="0.15">2</text>
<text x="412.85" y="321.40" font-size="6.4" font-weight="bold" fill="#111" stroke="#111" stroke-width="0.2">10</text>
<text x="420.96" y="319.00" font-size="4.3" font-weight="bold" fill="#111" stroke="#111" stroke-width="0.15">3</text>
<text x="449.15" y="321.40" font-size="6.4" font-weight="bold" fill="#111" stroke="#111" stroke-width="0.2">10</text>
<text x="457.26" y="319.00" font-size="4.3" font-weight="bold" fill="#111" stroke="#111" stroke-width="0.15">4</text>
<text x="292.72" y="253.20" font-size="7.0" font-weight="bold" text-anchor="middle" fill="#111" stroke="#111" stroke-width="0.4" transform="rotate(-90 292.72 253.20)">Cell Viability (%)</text>
<text x="382.00" y="330.98" font-size="6.6" font-weight="bold" text-anchor="middle" fill="#111" stroke="#111" stroke-width="0.4">Concentration(nM),Pyrotinib</text>
<path d="M336.60,224.92 L337.70,225.27 L338.80,225.64 L339.90,226.04 L341.00,226.47 L342.10,226.92 L343.20,227.40 L344.30,227.91 L345.40,228.45 L346.50,229.02 L347.60,229.63 L348.70,230.27 L349.80,230.94 L350.90,231.66 L352.00,232.41 L353.10,233.20 L354.20,234.03 L355.30,234.90 L356.40,235.81 L357.50,236.77 L358.60,237.76 L359.70,238.80 L360.80,239.88 L361.90,241.01 L363.00,242.17 L364.10,243.38 L365.20,244.62 L366.30,245.90 L367.40,247.22 L368.50,248.57 L369.60,249.95 L370.70,251.36 L371.80,252.80 L372.90,254.25 L374.00,255.73 L375.10,257.22 L376.20,258.73 L377.30,260.24 L378.40,261.76 L379.50,263.28 L380.60,264.79 L381.70,266.30 L382.80,267.79 L383.90,269.27 L385.00,270.73 L386.10,272.16 L387.20,273.58 L388.30,274.96 L389.40,276.31 L390.50,277.63 L391.60,278.91 L392.70,280.16 L393.80,281.36 L394.90,282.53 L396.00,283.66 L397.10,284.74 L398.20,285.78 L399.30,286.78 L400.40,287.74 L401.50,288.65 L402.60,289.53 L403.70,290.36 L404.80,291.15 L405.90,291.91 L407.00,292.62 L408.10,293.30 L409.20,293.94 L410.30,294.55 L411.40,295.12 L412.50,295.66 L413.60,296.17 L414.70,296.66 L415.80,297.11 L416.90,297.54 L418.00,297.94 L419.10,298.31 L420.20,298.67 L421.30,299.00 L422.40,299.31 L423.50,299.60" stroke="#a08acb" stroke-width="1.0" fill="none" />
<path d="M336.60,227.96 L337.70,228.79 L338.80,229.64 L339.90,230.52 L341.00,231.41 L342.10,232.32 L343.20,233.24 L344.30,234.19 L345.40,235.15 L346.50,236.13 L347.60,237.13 L348.70,238.14 L349.80,239.16 L350.90,240.21 L352.00,241.26 L353.10,242.33 L354.20,243.42 L355.30,244.51 L356.40,245.62 L357.50,246.73 L358.60,247.86 L359.70,248.99 L360.80,250.13 L361.90,251.28 L363.00,252.44 L364.10,253.60 L365.20,254.76 L366.30,255.92 L367.40,257.09 L368.50,258.26 L369.60,259.42 L370.70,260.59 L371.80,261.75 L372.90,262.91 L374.00,264.06 L375.10,265.21 L376.20,266.35 L377.30,267.49 L378.40,268.61 L379.50,269.73 L380.60,270.83 L381.70,271.92 L382.80,273.01 L383.90,274.07 L385.00,275.13 L386.10,276.17 L387.20,277.20 L388.30,278.21 L389.40,279.20 L390.50,280.18 L391.60,281.14 L392.70,282.08 L393.80,283.01 L394.90,283.92 L396.00,284.80 L397.10,285.67 L398.20,286.53 L399.30,287.36 L400.40,288.17 L401.50,288.97 L402.60,289.74 L403.70,290.50 L404.80,291.24 L405.90,291.95 L407.00,292.65 L408.10,293.33 L409.20,294.00 L410.30,294.64 L411.40,295.26 L412.50,295.87 L413.60,296.46 L414.70,297.03 L415.80,297.59 L416.90,298.13 L418.00,298.65 L419.10,299.15 L420.20,299.64 L421.30,300.11 L422.40,300.57 L423.50,301.01" stroke="#2bb3e3" stroke-width="1.0" fill="none" />
<line x1="336.60" y1="216.50" x2="336.60" y2="230.50" stroke="#3a2d6a" stroke-width="0.7"/>
<line x1="334.80" y1="216.50" x2="338.40" y2="216.50" stroke="#3a2d6a" stroke-width="0.7"/>
<line x1="334.80" y1="230.50" x2="338.40" y2="230.50" stroke="#3a2d6a" stroke-width="0.7"/>
<line x1="348.00" y1="226.40" x2="348.00" y2="235.20" stroke="#3a2d6a" stroke-width="0.7"/>
<line x1="346.20" y1="226.40" x2="349.80" y2="226.40" stroke="#3a2d6a" stroke-width="0.7"/>
<line x1="346.20" y1="235.20" x2="349.80" y2="235.20" stroke="#3a2d6a" stroke-width="0.7"/>
<line x1="358.80" y1="233.70" x2="358.80" y2="247.30" stroke="#3a2d6a" stroke-width="0.7"/>
<line x1="357.00" y1="233.70" x2="360.60" y2="233.70" stroke="#3a2d6a" stroke-width="0.7"/>
<line x1="357.00" y1="247.30" x2="360.60" y2="247.30" stroke="#3a2d6a" stroke-width="0.7"/>
<line x1="369.80" y1="243.70" x2="369.80" y2="251.70" stroke="#3a2d6a" stroke-width="0.7"/>
<line x1="368.00" y1="243.70" x2="371.60" y2="243.70" stroke="#3a2d6a" stroke-width="0.7"/>
<line x1="368.00" y1="251.70" x2="371.60" y2="251.70" stroke="#3a2d6a" stroke-width="0.7"/>
<line x1="380.30" y1="256.50" x2="380.30" y2="270.50" stroke="#3a2d6a" stroke-width="0.7"/>
<line x1="378.50" y1="256.50" x2="382.10" y2="256.50" stroke="#3a2d6a" stroke-width="0.7"/>
<line x1="378.50" y1="270.50" x2="382.10" y2="270.50" stroke="#3a2d6a" stroke-width="0.7"/>
<line x1="391.20" y1="276.80" x2="391.20" y2="283.80" stroke="#3a2d6a" stroke-width="0.7"/>
<line x1="389.40" y1="276.80" x2="393.00" y2="276.80" stroke="#3a2d6a" stroke-width="0.7"/>
<line x1="389.40" y1="283.80" x2="393.00" y2="283.80" stroke="#3a2d6a" stroke-width="0.7"/>
<line x1="402.10" y1="288.00" x2="402.10" y2="290.00" stroke="#3a2d6a" stroke-width="0.7"/>
<line x1="400.30" y1="288.00" x2="403.90" y2="288.00" stroke="#3a2d6a" stroke-width="0.7"/>
<line x1="400.30" y1="290.00" x2="403.90" y2="290.00" stroke="#3a2d6a" stroke-width="0.7"/>
<line x1="412.60" y1="294.60" x2="412.60" y2="296.60" stroke="#3a2d6a" stroke-width="0.7"/>
<line x1="410.80" y1="294.60" x2="414.40" y2="294.60" stroke="#3a2d6a" stroke-width="0.7"/>
<line x1="410.80" y1="296.60" x2="414.40" y2="296.60" stroke="#3a2d6a" stroke-width="0.7"/>
<line x1="423.50" y1="298.30" x2="423.50" y2="300.30" stroke="#3a2d6a" stroke-width="0.7"/>
<line x1="421.70" y1="298.30" x2="425.30" y2="298.30" stroke="#3a2d6a" stroke-width="0.7"/>
<line x1="421.70" y1="300.30" x2="425.30" y2="300.30" stroke="#3a2d6a" stroke-width="0.7"/>
<line x1="336.60" y1="223.50" x2="336.60" y2="230.50" stroke="#3a4a7a" stroke-width="0.7"/>
<line x1="334.80" y1="223.50" x2="338.40" y2="223.50" stroke="#3a4a7a" stroke-width="0.7"/>
<line x1="334.80" y1="230.50" x2="338.40" y2="230.50" stroke="#3a4a7a" stroke-width="0.7"/>
<line x1="369.80" y1="253.00" x2="369.80" y2="261.00" stroke="#3a4a7a" stroke-width="0.7"/>
<line x1="368.00" y1="253.00" x2="371.60" y2="253.00" stroke="#3a4a7a" stroke-width="0.7"/>
<line x1="368.00" y1="261.00" x2="371.60" y2="261.00" stroke="#3a4a7a" stroke-width="0.7"/>
<line x1="380.30" y1="264.60" x2="380.30" y2="270.60" stroke="#3a4a7a" stroke-width="0.7"/>
<line x1="378.50" y1="264.60" x2="382.10" y2="264.60" stroke="#3a4a7a" stroke-width="0.7"/>
<line x1="378.50" y1="270.60" x2="382.10" y2="270.60" stroke="#3a4a7a" stroke-width="0.7"/>
<circle cx="336.60" cy="223.50" r="2.20" fill="#9a80c8"/>
<circle cx="348.00" cy="230.80" r="2.20" fill="#9a80c8"/>
<circle cx="358.80" cy="240.50" r="2.20" fill="#9a80c8"/>
<circle cx="369.80" cy="247.70" r="2.20" fill="#9a80c8"/>
<circle cx="380.30" cy="263.50" r="2.20" fill="#9a80c8"/>
<circle cx="391.20" cy="280.30" r="2.20" fill="#9a80c8"/>
<circle cx="402.10" cy="289.00" r="2.20" fill="#9a80c8"/>
<circle cx="412.60" cy="295.60" r="2.20" fill="#9a80c8"/>
<circle cx="423.50" cy="299.30" r="2.20" fill="#9a80c8"/>
<rect x="334.60" y="225.00" width="4.00" height="4.00" fill="#31b3ec"/>
<rect x="346.00" y="235.90" width="4.00" height="4.00" fill="#31b3ec"/>
<rect x="356.80" y="249.50" width="4.00" height="4.00" fill="#31b3ec"/>
<rect x="367.80" y="255.00" width="4.00" height="4.00" fill="#31b3ec"/>
<rect x="378.30" y="265.60" width="4.00" height="4.00" fill="#31b3ec"/>
<rect x="389.20" y="280.90" width="4.00" height="4.00" fill="#31b3ec"/>
<rect x="400.10" y="288.80" width="4.00" height="4.00" fill="#31b3ec"/>
<rect x="410.60" y="294.20" width="4.00" height="4.00" fill="#31b3ec"/>
<rect x="421.50" y="297.90" width="4.00" height="4.00" fill="#31b3ec"/>
<line x1="480.70" y1="207.20" x2="480.70" y2="296.50" stroke="#2a2a2a" stroke-width="1.1"/>
<line x1="477.30" y1="207.20" x2="480.70" y2="207.20" stroke="#2a2a2a" stroke-width="1.1"/>
<text x="476.90" y="209.43" font-size="6.2" font-weight="bold" text-anchor="end" fill="#111" stroke="#111" stroke-width="0.4">120</text>
<line x1="477.30" y1="229.50" x2="480.70" y2="229.50" stroke="#2a2a2a" stroke-width="1.1"/>
<text x="476.90" y="231.73" font-size="6.2" font-weight="bold" text-anchor="end" fill="#111" stroke="#111" stroke-width="0.4">90</text>
<line x1="477.30" y1="251.80" x2="480.70" y2="251.80" stroke="#2a2a2a" stroke-width="1.1"/>
<text x="476.90" y="254.03" font-size="6.2" font-weight="bold" text-anchor="end" fill="#111" stroke="#111" stroke-width="0.4">60</text>
<line x1="477.30" y1="274.20" x2="480.70" y2="274.20" stroke="#2a2a2a" stroke-width="1.1"/>
<text x="476.90" y="276.43" font-size="6.2" font-weight="bold" text-anchor="end" fill="#111" stroke="#111" stroke-width="0.4">30</text>
<line x1="477.30" y1="296.50" x2="480.70" y2="296.50" stroke="#2a2a2a" stroke-width="1.1"/>
<text x="476.90" y="298.73" font-size="6.2" font-weight="bold" text-anchor="end" fill="#111" stroke="#111" stroke-width="0.4">0</text>
<text x="490.60" y="307.50" font-size="6.0" font-weight="bold" text-anchor="end" fill="#111" stroke="#111" stroke-width="0.4" transform="rotate(-45 490.60 307.50)">pCDH-flag</text>
<text x="505.40" y="307.50" font-size="6.0" font-weight="bold" text-anchor="end" fill="#111" stroke="#111" stroke-width="0.4" transform="rotate(-45 505.40 307.50)">pCDH-M6PR</text>
<line x1="480.70" y1="296.50" x2="516.00" y2="296.50" stroke="#2a2a2a" stroke-width="1.1"/>
<line x1="490.80" y1="296.50" x2="490.80" y2="299.00" stroke="#2a2a2a" stroke-width="1.1"/>
<line x1="505.70" y1="296.50" x2="505.70" y2="299.00" stroke="#2a2a2a" stroke-width="1.1"/>
<rect x="486.45" y="235.85" width="8.70" height="60.65" fill="#9c88c8" stroke="#2b1f5c" stroke-width="1.7"/>
<line x1="490.80" y1="233.50" x2="490.80" y2="236.50" stroke="#2b1f5c" stroke-width="0.8"/>
<line x1="488.60" y1="233.50" x2="493.00" y2="233.50" stroke="#2b1f5c" stroke-width="0.8"/>
<line x1="488.60" y1="236.50" x2="493.00" y2="236.50" stroke="#2b1f5c" stroke-width="0.8"/>
<rect x="501.25" y="263.65" width="8.90" height="32.85" fill="#36b5ee" stroke="#1d4f9f" stroke-width="1.7"/>
<line x1="505.70" y1="254.20" x2="505.70" y2="272.70" stroke="#1d4f9f" stroke-width="0.8"/>
<line x1="503.50" y1="254.20" x2="507.90" y2="254.20" stroke="#1d4f9f" stroke-width="0.8"/>
<line x1="503.50" y1="272.70" x2="507.90" y2="272.70" stroke="#1d4f9f" stroke-width="0.8"/>
<path d="M490.70,226.90 L490.70,222.10 L505.60,222.10 L505.60,250.20" stroke="#333" stroke-width="0.9" fill="none" />
<text x="498.15" y="219.32" font-size="5.9" font-weight="normal" text-anchor="middle" fill="#222" stroke="#222" stroke-width="0.1">0.0040</text>
<text transform="translate(459.00,252.30) rotate(-90)" font-size="6.1" font-weight="bold" text-anchor="middle" fill="#111" stroke="#111" stroke-width="0.4" y="2.2">IC<tspan font-size="4.2" dy="1.2">50</tspan><tspan dy="-1.2"> Value</tspan></text>
<text transform="translate(4.00,372.00) scale(0.96,1)" font-size="12.2" font-weight="bold" fill="#000" stroke="#000" stroke-width="0.3">f</text>
<text x="120.70" y="358.66" font-size="7.4" font-weight="bold" text-anchor="middle" fill="#111" stroke="#111" stroke-width="0.22">HCC1954</text>
<line x1="46.30" y1="370.00" x2="46.30" y2="466.00" stroke="#2a2a2a" stroke-width="1.1"/>
<line x1="42.80" y1="370.00" x2="46.30" y2="370.00" stroke="#2a2a2a" stroke-width="1.1"/>
<text x="41.50" y="372.45" font-size="6.8" font-weight="bold" text-anchor="end" fill="#111" stroke="#111" stroke-width="0.4">100</text>
<line x1="42.80" y1="418.00" x2="46.30" y2="418.00" stroke="#2a2a2a" stroke-width="1.1"/>
<text x="41.50" y="420.45" font-size="6.8" font-weight="bold" text-anchor="end" fill="#111" stroke="#111" stroke-width="0.4">50</text>
<line x1="42.80" y1="466.00" x2="46.30" y2="466.00" stroke="#2a2a2a" stroke-width="1.1"/>
<text x="41.50" y="468.45" font-size="6.8" font-weight="bold" text-anchor="end" fill="#111" stroke="#111" stroke-width="0.4">0</text>
<line x1="46.30" y1="466.00" x2="190.30" y2="466.00" stroke="#2a2a2a" stroke-width="1.1"/>
<line x1="46.30" y1="466.00" x2="46.30" y2="469.00" stroke="#2a2a2a" stroke-width="1.1"/>
<line x1="82.30" y1="466.00" x2="82.30" y2="469.00" stroke="#2a2a2a" stroke-width="1.1"/>
<line x1="118.30" y1="466.00" x2="118.30" y2="469.00" stroke="#2a2a2a" stroke-width="1.1"/>
<line x1="154.30" y1="466.00" x2="154.30" y2="469.00" stroke="#2a2a2a" stroke-width="1.1"/>
<line x1="190.30" y1="466.00" x2="190.30" y2="469.00" stroke="#2a2a2a" stroke-width="1.1"/>
<text x="40.33" y="477.90" font-size="6.4" font-weight="bold" fill="#111" stroke="#111" stroke-width="0.2">10</text>
<text x="48.45" y="475.50" font-size="4.3" font-weight="bold" fill="#111" stroke="#111" stroke-width="0.15">-1</text>
<text x="77.05" y="477.90" font-size="6.4" font-weight="bold" fill="#111" stroke="#111" stroke-width="0.2">10</text>
<text x="85.16" y="475.50" font-size="4.3" font-weight="bold" fill="#111" stroke="#111" stroke-width="0.15">0</text>
<text x="113.05" y="477.90" font-size="6.4" font-weight="bold" fill="#111" stroke="#111" stroke-width="0.2">10</text>
<text x="121.16" y="475.50" font-size="4.3" font-weight="bold" fill="#111" stroke="#111" stroke-width="0.15">1</text>
<text x="149.05" y="477.90" font-size="6.4" font-weight="bold" fill="#111" stroke="#111" stroke-width="0.2">10</text>
<text x="157.16" y="475.50" font-size="4.3" font-weight="bold" fill="#111" stroke="#111" stroke-width="0.15">2</text>
<text x="185.05" y="477.90" font-size="6.4" font-weight="bold" fill="#111" stroke="#111" stroke-width="0.2">10</text>
<text x="193.16" y="475.50" font-size="4.3" font-weight="bold" fill="#111" stroke="#111" stroke-width="0.15">3</text>
<text x="32.02" y="419.70" font-size="7.0" font-weight="bold" text-anchor="middle" fill="#111" stroke="#111" stroke-width="0.4" transform="rotate(-90 32.02 419.70)">Cell Viability (%)</text>
<text x="119.60" y="488.38" font-size="6.6" font-weight="bold" text-anchor="middle" fill="#111" stroke="#111" stroke-width="0.4">Concentration(nM),Docetaxel</text>
<path d="M67.90,381.23 L68.99,381.61 L70.08,382.02 L71.17,382.48 L72.26,382.98 L73.36,383.53 L74.45,384.13 L75.54,384.79 L76.63,385.50 L77.72,386.27 L78.81,387.11 L79.90,388.03 L80.99,389.01 L82.08,390.07 L83.18,391.21 L84.27,392.43 L85.36,393.73 L86.45,395.12 L87.54,396.60 L88.63,398.16 L89.72,399.80 L90.81,401.53 L91.91,403.33 L93.00,405.20 L94.09,407.14 L95.18,409.13 L96.27,411.18 L97.36,413.26 L98.45,415.38 L99.54,417.51 L100.63,419.65 L101.73,421.79 L102.82,423.91 L103.91,426.01 L105.00,428.07 L106.09,430.08 L107.18,432.04 L108.27,433.94 L109.36,435.76 L110.45,437.51 L111.55,439.18 L112.64,440.77 L113.73,442.28 L114.82,443.70 L115.91,445.03 L117.00,446.28 L118.09,447.45 L119.18,448.53 L120.27,449.54 L121.37,450.48 L122.46,451.34 L123.55,452.14 L124.64,452.87 L125.73,453.55 L126.82,454.16 L127.91,454.73 L129.00,455.25 L130.09,455.72 L131.19,456.15 L132.28,456.54 L133.37,456.90 L134.46,457.23 L135.55,457.52 L136.64,457.79 L137.73,458.03 L138.82,458.25 L139.92,458.45 L141.01,458.64 L142.10,458.80 L143.19,458.95 L144.28,459.08 L145.37,459.20 L146.46,459.31 L147.55,459.41 L148.64,459.50 L149.74,459.58 L150.83,459.66 L151.92,459.72 L153.01,459.78 L154.10,459.84" stroke="#a08acb" stroke-width="1.0" fill="none" />
<path d="M67.90,379.73 L68.99,380.67 L70.08,381.68 L71.17,382.76 L72.26,383.90 L73.36,385.13 L74.45,386.43 L75.54,387.80 L76.63,389.25 L77.72,390.78 L78.81,392.38 L79.90,394.06 L80.99,395.81 L82.08,397.63 L83.18,399.52 L84.27,401.46 L85.36,403.47 L86.45,405.52 L87.54,407.61 L88.63,409.74 L89.72,411.89 L90.81,414.06 L91.91,416.23 L93.00,418.41 L94.09,420.57 L95.18,422.72 L96.27,424.83 L97.36,426.91 L98.45,428.95 L99.54,430.93 L100.63,432.86 L101.73,434.73 L102.82,436.53 L103.91,438.25 L105.00,439.91 L106.09,441.49 L107.18,442.99 L108.27,444.42 L109.36,445.77 L110.45,447.04 L111.55,448.24 L112.64,449.37 L113.73,450.43 L114.82,451.41 L115.91,452.33 L117.00,453.19 L118.09,453.99 L119.18,454.73 L120.27,455.42 L121.37,456.06 L122.46,456.65 L123.55,457.19 L124.64,457.70 L125.73,458.16 L126.82,458.59 L127.91,458.98 L129.00,459.34 L130.09,459.68 L131.19,459.98 L132.28,460.26 L133.37,460.52 L134.46,460.76 L135.55,460.97 L136.64,461.17 L137.73,461.35 L138.82,461.52 L139.92,461.67 L141.01,461.81 L142.10,461.94 L143.19,462.06 L144.28,462.16 L145.37,462.26 L146.46,462.35 L147.55,462.43 L148.64,462.50 L149.74,462.57 L150.83,462.63 L151.92,462.69 L153.01,462.74 L154.10,462.79" stroke="#2bb3e3" stroke-width="1.0" fill="none" />
<line x1="67.90" y1="377.80" x2="67.90" y2="385.80" stroke="#3a2d6a" stroke-width="0.7"/>
<line x1="66.10" y1="377.80" x2="69.70" y2="377.80" stroke="#3a2d6a" stroke-width="0.7"/>
<line x1="66.10" y1="385.80" x2="69.70" y2="385.80" stroke="#3a2d6a" stroke-width="0.7"/>
<line x1="78.80" y1="382.80" x2="78.80" y2="390.80" stroke="#3a2d6a" stroke-width="0.7"/>
<line x1="77.00" y1="382.80" x2="80.60" y2="382.80" stroke="#3a2d6a" stroke-width="0.7"/>
<line x1="77.00" y1="390.80" x2="80.60" y2="390.80" stroke="#3a2d6a" stroke-width="0.7"/>
<line x1="89.30" y1="394.50" x2="89.30" y2="400.50" stroke="#3a2d6a" stroke-width="0.7"/>
<line x1="87.50" y1="394.50" x2="91.10" y2="394.50" stroke="#3a2d6a" stroke-width="0.7"/>
<line x1="87.50" y1="400.50" x2="91.10" y2="400.50" stroke="#3a2d6a" stroke-width="0.7"/>
<line x1="100.20" y1="419.20" x2="100.20" y2="425.20" stroke="#3a2d6a" stroke-width="0.7"/>
<line x1="98.40" y1="419.20" x2="102.00" y2="419.20" stroke="#3a2d6a" stroke-width="0.7"/>
<line x1="98.40" y1="425.20" x2="102.00" y2="425.20" stroke="#3a2d6a" stroke-width="0.7"/>
<line x1="110.90" y1="431.60" x2="110.90" y2="437.60" stroke="#3a2d6a" stroke-width="0.7"/>
<line x1="109.10" y1="431.60" x2="112.70" y2="431.60" stroke="#3a2d6a" stroke-width="0.7"/>
<line x1="109.10" y1="437.60" x2="112.70" y2="437.60" stroke="#3a2d6a" stroke-width="0.7"/>
<line x1="67.90" y1="375.70" x2="67.90" y2="385.70" stroke="#3a4a7a" stroke-width="0.7"/>
<line x1="66.10" y1="375.70" x2="69.70" y2="375.70" stroke="#3a4a7a" stroke-width="0.7"/>
<line x1="66.10" y1="385.70" x2="69.70" y2="385.70" stroke="#3a4a7a" stroke-width="0.7"/>
<line x1="78.80" y1="387.10" x2="78.80" y2="393.10" stroke="#3a4a7a" stroke-width="0.7"/>
<line x1="77.00" y1="387.10" x2="80.60" y2="387.10" stroke="#3a4a7a" stroke-width="0.7"/>
<line x1="77.00" y1="393.10" x2="80.60" y2="393.10" stroke="#3a4a7a" stroke-width="0.7"/>
<line x1="89.30" y1="409.40" x2="89.30" y2="415.40" stroke="#3a4a7a" stroke-width="0.7"/>
<line x1="87.50" y1="409.40" x2="91.10" y2="409.40" stroke="#3a4a7a" stroke-width="0.7"/>
<line x1="87.50" y1="415.40" x2="91.10" y2="415.40" stroke="#3a4a7a" stroke-width="0.7"/>
<line x1="100.20" y1="432.20" x2="100.20" y2="436.20" stroke="#3a4a7a" stroke-width="0.7"/>
<line x1="98.40" y1="432.20" x2="102.00" y2="432.20" stroke="#3a4a7a" stroke-width="0.7"/>
<line x1="98.40" y1="436.20" x2="102.00" y2="436.20" stroke="#3a4a7a" stroke-width="0.7"/>
<line x1="110.90" y1="440.30" x2="110.90" y2="444.30" stroke="#3a4a7a" stroke-width="0.7"/>
<line x1="109.10" y1="440.30" x2="112.70" y2="440.30" stroke="#3a4a7a" stroke-width="0.7"/>
<line x1="109.10" y1="444.30" x2="112.70" y2="444.30" stroke="#3a4a7a" stroke-width="0.7"/>
<circle cx="67.90" cy="381.80" r="2.20" fill="#9a80c8"/>
<circle cx="78.80" cy="386.80" r="2.20" fill="#9a80c8"/>
<circle cx="89.30" cy="397.50" r="2.20" fill="#9a80c8"/>
<circle cx="100.20" cy="422.20" r="2.20" fill="#9a80c8"/>
<circle cx="110.90" cy="434.60" r="2.20" fill="#9a80c8"/>
<circle cx="121.80" cy="452.30" r="2.20" fill="#9a80c8"/>
<circle cx="132.70" cy="457.70" r="2.20" fill="#9a80c8"/>
<circle cx="143.20" cy="458.60" r="2.20" fill="#9a80c8"/>
<circle cx="154.10" cy="459.30" r="2.20" fill="#9a80c8"/>
<rect x="65.90" y="378.70" width="4.00" height="4.00" fill="#31b3ec"/>
<rect x="76.80" y="388.10" width="4.00" height="4.00" fill="#31b3ec"/>
<rect x="87.30" y="410.40" width="4.00" height="4.00" fill="#31b3ec"/>
<rect x="98.20" y="432.20" width="4.00" height="4.00" fill="#31b3ec"/>
<rect x="108.90" y="440.30" width="4.00" height="4.00" fill="#31b3ec"/>
<rect x="119.80" y="457.70" width="4.00" height="4.00" fill="#31b3ec"/>
<rect x="130.70" y="459.50" width="4.00" height="4.00" fill="#31b3ec"/>
<rect x="141.20" y="459.50" width="4.00" height="4.00" fill="#31b3ec"/>
<rect x="152.10" y="459.90" width="4.00" height="4.00" fill="#31b3ec"/>
<line x1="221.10" y1="362.30" x2="221.10" y2="452.80" stroke="#2a2a2a" stroke-width="1.1"/>
<line x1="217.70" y1="362.30" x2="221.10" y2="362.30" stroke="#2a2a2a" stroke-width="1.1"/>
<text x="217.30" y="364.53" font-size="6.2" font-weight="bold" text-anchor="end" fill="#111" stroke="#111" stroke-width="0.4">4</text>
<line x1="217.70" y1="384.90" x2="221.10" y2="384.90" stroke="#2a2a2a" stroke-width="1.1"/>
<text x="217.30" y="387.13" font-size="6.2" font-weight="bold" text-anchor="end" fill="#111" stroke="#111" stroke-width="0.4">3</text>
<line x1="217.70" y1="407.60" x2="221.10" y2="407.60" stroke="#2a2a2a" stroke-width="1.1"/>
<text x="217.30" y="409.83" font-size="6.2" font-weight="bold" text-anchor="end" fill="#111" stroke="#111" stroke-width="0.4">2</text>
<line x1="217.70" y1="430.20" x2="221.10" y2="430.20" stroke="#2a2a2a" stroke-width="1.1"/>
<text x="217.30" y="432.43" font-size="6.2" font-weight="bold" text-anchor="end" fill="#111" stroke="#111" stroke-width="0.4">1</text>
<line x1="217.70" y1="452.80" x2="221.10" y2="452.80" stroke="#2a2a2a" stroke-width="1.1"/>
<text x="217.30" y="455.03" font-size="6.2" font-weight="bold" text-anchor="end" fill="#111" stroke="#111" stroke-width="0.4">0</text>
<text x="231.40" y="462.80" font-size="6.0" font-weight="bold" text-anchor="end" fill="#111" stroke="#111" stroke-width="0.4" transform="rotate(-45 231.40 462.80)">pCDH-flag</text>
<text x="246.60" y="462.80" font-size="6.0" font-weight="bold" text-anchor="end" fill="#111" stroke="#111" stroke-width="0.4" transform="rotate(-45 246.60 462.80)">pCDH-M6PR</text>
<line x1="221.10" y1="452.80" x2="258.00" y2="452.80" stroke="#2a2a2a" stroke-width="1.1"/>
<line x1="231.15" y1="452.80" x2="231.15" y2="455.30" stroke="#2a2a2a" stroke-width="1.1"/>
<line x1="246.50" y1="452.80" x2="246.50" y2="455.30" stroke="#2a2a2a" stroke-width="1.1"/>
<rect x="226.85" y="389.85" width="8.60" height="62.95" fill="#9c88c8" stroke="#2b1f5c" stroke-width="1.7"/>
<line x1="231.15" y1="386.00" x2="231.15" y2="392.00" stroke="#2b1f5c" stroke-width="0.8"/>
<line x1="228.95" y1="386.00" x2="233.35" y2="386.00" stroke="#2b1f5c" stroke-width="0.8"/>
<line x1="228.95" y1="392.00" x2="233.35" y2="392.00" stroke="#2b1f5c" stroke-width="0.8"/>
<rect x="242.05" y="410.25" width="8.90" height="42.55" fill="#36b5ee" stroke="#1d4f9f" stroke-width="1.7"/>
<line x1="246.50" y1="408.50" x2="246.50" y2="410.30" stroke="#1d4f9f" stroke-width="0.8"/>
<line x1="244.30" y1="408.50" x2="248.70" y2="408.50" stroke="#1d4f9f" stroke-width="0.8"/>
<line x1="244.30" y1="410.30" x2="248.70" y2="410.30" stroke="#1d4f9f" stroke-width="0.8"/>
<path d="M230.70,381.20 L230.70,375.80 L246.40,375.80 L246.40,403.00" stroke="#333" stroke-width="0.9" fill="none" />
<text x="238.55" y="372.12" font-size="5.9" font-weight="normal" text-anchor="middle" fill="#222" stroke="#222" stroke-width="0.1">0.0078</text>
<text transform="translate(205.70,408.60) rotate(-90)" font-size="6.1" font-weight="bold" text-anchor="middle" fill="#111" stroke="#111" stroke-width="0.4" y="2.2">IC<tspan font-size="4.2" dy="1.2">50</tspan><tspan dy="-1.2"> Value</tspan></text>
<text transform="translate(267.80,371.60) scale(0.96,1)" font-size="12.2" font-weight="bold" fill="#000" stroke="#000" stroke-width="0.3">g</text>
<text x="385.00" y="357.96" font-size="7.4" font-weight="bold" text-anchor="middle" fill="#111" stroke="#111" stroke-width="0.22">HCC1954</text>
<line x1="310.50" y1="370.50" x2="310.50" y2="466.00" stroke="#2a2a2a" stroke-width="1.1"/>
<line x1="307.00" y1="370.50" x2="310.50" y2="370.50" stroke="#2a2a2a" stroke-width="1.1"/>
<text x="305.70" y="372.95" font-size="6.8" font-weight="bold" text-anchor="end" fill="#111" stroke="#111" stroke-width="0.4">100</text>
<line x1="307.00" y1="418.25" x2="310.50" y2="418.25" stroke="#2a2a2a" stroke-width="1.1"/>
<text x="305.70" y="420.70" font-size="6.8" font-weight="bold" text-anchor="end" fill="#111" stroke="#111" stroke-width="0.4">50</text>
<line x1="307.00" y1="466.00" x2="310.50" y2="466.00" stroke="#2a2a2a" stroke-width="1.1"/>
<text x="305.70" y="468.45" font-size="6.8" font-weight="bold" text-anchor="end" fill="#111" stroke="#111" stroke-width="0.4">0</text>
<line x1="310.50" y1="466.00" x2="455.40" y2="466.00" stroke="#2a2a2a" stroke-width="1.1"/>
<line x1="310.50" y1="466.00" x2="310.50" y2="469.00" stroke="#2a2a2a" stroke-width="1.1"/>
<line x1="358.80" y1="466.00" x2="358.80" y2="469.00" stroke="#2a2a2a" stroke-width="1.1"/>
<line x1="407.10" y1="466.00" x2="407.10" y2="469.00" stroke="#2a2a2a" stroke-width="1.1"/>
<line x1="455.40" y1="466.00" x2="455.40" y2="469.00" stroke="#2a2a2a" stroke-width="1.1"/>
<text x="305.25" y="477.90" font-size="6.4" font-weight="bold" fill="#111" stroke="#111" stroke-width="0.2">10</text>
<text x="313.36" y="475.50" font-size="4.3" font-weight="bold" fill="#111" stroke="#111" stroke-width="0.15">0</text>
<text x="353.55" y="477.90" font-size="6.4" font-weight="bold" fill="#111" stroke="#111" stroke-width="0.2">10</text>
<text x="361.66" y="475.50" font-size="4.3" font-weight="bold" fill="#111" stroke="#111" stroke-width="0.15">1</text>
<text x="401.85" y="477.90" font-size="6.4" font-weight="bold" fill="#111" stroke="#111" stroke-width="0.2">10</text>
<text x="409.96" y="475.50" font-size="4.3" font-weight="bold" fill="#111" stroke="#111" stroke-width="0.15">2</text>
<text x="450.15" y="477.90" font-size="6.4" font-weight="bold" fill="#111" stroke="#111" stroke-width="0.2">10</text>
<text x="458.26" y="475.50" font-size="4.3" font-weight="bold" fill="#111" stroke="#111" stroke-width="0.15">3</text>
<text x="292.52" y="419.70" font-size="7.0" font-weight="bold" text-anchor="middle" fill="#111" stroke="#111" stroke-width="0.4" transform="rotate(-90 292.52 419.70)">Cell Viability (%)</text>
<text x="382.50" y="488.38" font-size="6.6" font-weight="bold" text-anchor="middle" fill="#111" stroke="#111" stroke-width="0.4">Concentration(nM),Paclitaxel</text>
<path d="M338.80,400.95 L339.65,403.14 L340.50,405.32 L341.35,407.48 L342.20,409.61 L343.05,411.72 L343.90,413.79 L344.75,415.82 L345.61,417.80 L346.46,419.74 L347.31,421.63 L348.16,423.46 L349.01,425.24 L349.86,426.96 L350.71,428.62 L351.56,430.22 L352.41,431.76 L353.26,433.24 L354.11,434.65 L354.96,436.00 L355.81,437.29 L356.66,438.52 L357.51,439.69 L358.36,440.80 L359.22,441.85 L360.07,442.85 L360.92,443.80 L361.77,444.69 L362.62,445.53 L363.47,446.33 L364.32,447.08 L365.17,447.79 L366.02,448.45 L366.87,449.08 L367.72,449.66 L368.57,450.21 L369.42,450.73 L370.27,451.21 L371.12,451.67 L371.97,452.09 L372.83,452.49 L373.68,452.86 L374.53,453.21 L375.38,453.53 L376.23,453.83 L377.08,454.12 L377.93,454.38 L378.78,454.63 L379.63,454.86 L380.48,455.07 L381.33,455.27 L382.18,455.46 L383.03,455.63 L383.88,455.79 L384.73,455.94 L385.58,456.09 L386.44,456.22 L387.29,456.34 L388.14,456.45 L388.99,456.56 L389.84,456.65 L390.69,456.75 L391.54,456.83 L392.39,456.91 L393.24,456.98 L394.09,457.05 L394.94,457.11 L395.79,457.17 L396.64,457.23 L397.49,457.28 L398.34,457.33 L399.19,457.37 L400.05,457.41 L400.90,457.45 L401.75,457.49 L402.60,457.52 L403.45,457.55 L404.30,457.58 L405.15,457.60 L406.00,457.63" stroke="#a08acb" stroke-width="1.0" fill="none" />
<path d="M338.80,409.87 L339.65,411.69 L340.50,413.57 L341.35,415.53 L342.20,417.53 L343.05,419.59 L343.90,421.67 L344.75,423.78 L345.61,425.89 L346.46,428.00 L347.31,430.09 L348.16,432.14 L349.01,434.15 L349.86,436.10 L350.71,437.99 L351.56,439.80 L352.41,441.53 L353.26,443.18 L354.11,444.74 L354.96,446.20 L355.81,447.58 L356.66,448.86 L357.51,450.05 L358.36,451.16 L359.22,452.18 L360.07,453.12 L360.92,453.98 L361.77,454.77 L362.62,455.49 L363.47,456.15 L364.32,456.74 L365.17,457.28 L366.02,457.77 L366.87,458.22 L367.72,458.62 L368.57,458.98 L369.42,459.31 L370.27,459.60 L371.12,459.87 L371.97,460.11 L372.83,460.32 L373.68,460.51 L374.53,460.68 L375.38,460.84 L376.23,460.98 L377.08,461.10 L377.93,461.21 L378.78,461.31 L379.63,461.40 L380.48,461.48 L381.33,461.55 L382.18,461.62 L383.03,461.67 L383.88,461.72 L384.73,461.77 L385.58,461.81 L386.44,461.85 L387.29,461.88 L388.14,461.91 L388.99,461.94 L389.84,461.96 L390.69,461.98 L391.54,462.00 L392.39,462.01 L393.24,462.03 L394.09,462.04 L394.94,462.05 L395.79,462.06 L396.64,462.07 L397.49,462.08 L398.34,462.09 L399.19,462.10 L400.05,462.10 L400.90,462.11 L401.75,462.11 L402.60,462.12 L403.45,462.12 L404.30,462.12 L405.15,462.13 L406.00,462.13" stroke="#2bb3e3" stroke-width="1.0" fill="none" />
<line x1="338.80" y1="393.80" x2="338.80" y2="407.80" stroke="#3a2d6a" stroke-width="0.7"/>
<line x1="337.00" y1="393.80" x2="340.60" y2="393.80" stroke="#3a2d6a" stroke-width="0.7"/>
<line x1="337.00" y1="407.80" x2="340.60" y2="407.80" stroke="#3a2d6a" stroke-width="0.7"/>
<line x1="347.10" y1="416.70" x2="347.10" y2="426.70" stroke="#3a2d6a" stroke-width="0.7"/>
<line x1="345.30" y1="416.70" x2="348.90" y2="416.70" stroke="#3a2d6a" stroke-width="0.7"/>
<line x1="345.30" y1="426.70" x2="348.90" y2="426.70" stroke="#3a2d6a" stroke-width="0.7"/>
<line x1="355.60" y1="430.80" x2="355.60" y2="442.80" stroke="#3a2d6a" stroke-width="0.7"/>
<line x1="353.80" y1="430.80" x2="357.40" y2="430.80" stroke="#3a2d6a" stroke-width="0.7"/>
<line x1="353.80" y1="442.80" x2="357.40" y2="442.80" stroke="#3a2d6a" stroke-width="0.7"/>
<line x1="363.90" y1="440.10" x2="363.90" y2="450.10" stroke="#3a2d6a" stroke-width="0.7"/>
<line x1="362.10" y1="440.10" x2="365.70" y2="440.10" stroke="#3a2d6a" stroke-width="0.7"/>
<line x1="362.10" y1="450.10" x2="365.70" y2="450.10" stroke="#3a2d6a" stroke-width="0.7"/>
<line x1="338.80" y1="405.70" x2="338.80" y2="413.70" stroke="#3a4a7a" stroke-width="0.7"/>
<line x1="337.00" y1="405.70" x2="340.60" y2="405.70" stroke="#3a4a7a" stroke-width="0.7"/>
<line x1="337.00" y1="413.70" x2="340.60" y2="413.70" stroke="#3a4a7a" stroke-width="0.7"/>
<line x1="347.10" y1="426.30" x2="347.10" y2="434.30" stroke="#3a4a7a" stroke-width="0.7"/>
<line x1="345.30" y1="426.30" x2="348.90" y2="426.30" stroke="#3a4a7a" stroke-width="0.7"/>
<line x1="345.30" y1="434.30" x2="348.90" y2="434.30" stroke="#3a4a7a" stroke-width="0.7"/>
<line x1="355.60" y1="441.80" x2="355.60" y2="449.80" stroke="#3a4a7a" stroke-width="0.7"/>
<line x1="353.80" y1="441.80" x2="357.40" y2="441.80" stroke="#3a4a7a" stroke-width="0.7"/>
<line x1="353.80" y1="449.80" x2="357.40" y2="449.80" stroke="#3a4a7a" stroke-width="0.7"/>
<circle cx="338.80" cy="400.80" r="2.20" fill="#9a80c8"/>
<circle cx="347.10" cy="421.70" r="2.20" fill="#9a80c8"/>
<circle cx="355.60" cy="436.80" r="2.20" fill="#9a80c8"/>
<circle cx="363.90" cy="445.10" r="2.20" fill="#9a80c8"/>
<circle cx="372.60" cy="454.30" r="2.20" fill="#9a80c8"/>
<circle cx="380.90" cy="455.60" r="2.20" fill="#9a80c8"/>
<circle cx="389.40" cy="456.40" r="2.20" fill="#9a80c8"/>
<circle cx="397.70" cy="456.70" r="2.20" fill="#9a80c8"/>
<circle cx="406.00" cy="457.50" r="2.20" fill="#9a80c8"/>
<rect x="336.80" y="407.70" width="4.00" height="4.00" fill="#31b3ec"/>
<rect x="345.10" y="428.30" width="4.00" height="4.00" fill="#31b3ec"/>
<rect x="353.60" y="443.80" width="4.00" height="4.00" fill="#31b3ec"/>
<rect x="361.90" y="455.50" width="4.00" height="4.00" fill="#31b3ec"/>
<rect x="370.60" y="459.00" width="4.00" height="4.00" fill="#31b3ec"/>
<rect x="378.90" y="459.50" width="4.00" height="4.00" fill="#31b3ec"/>
<rect x="387.40" y="459.90" width="4.00" height="4.00" fill="#31b3ec"/>
<rect x="395.70" y="459.50" width="4.00" height="4.00" fill="#31b3ec"/>
<rect x="404.00" y="459.90" width="4.00" height="4.00" fill="#31b3ec"/>
<line x1="479.60" y1="362.30" x2="479.60" y2="453.00" stroke="#2a2a2a" stroke-width="1.1"/>
<line x1="476.20" y1="362.30" x2="479.60" y2="362.30" stroke="#2a2a2a" stroke-width="1.1"/>
<text x="475.80" y="364.53" font-size="6.2" font-weight="bold" text-anchor="end" fill="#111" stroke="#111" stroke-width="0.4">8</text>
<line x1="476.20" y1="385.00" x2="479.60" y2="385.00" stroke="#2a2a2a" stroke-width="1.1"/>
<text x="475.80" y="387.23" font-size="6.2" font-weight="bold" text-anchor="end" fill="#111" stroke="#111" stroke-width="0.4">6</text>
<line x1="476.20" y1="407.60" x2="479.60" y2="407.60" stroke="#2a2a2a" stroke-width="1.1"/>
<text x="475.80" y="409.83" font-size="6.2" font-weight="bold" text-anchor="end" fill="#111" stroke="#111" stroke-width="0.4">4</text>
<line x1="476.20" y1="430.30" x2="479.60" y2="430.30" stroke="#2a2a2a" stroke-width="1.1"/>
<text x="475.80" y="432.53" font-size="6.2" font-weight="bold" text-anchor="end" fill="#111" stroke="#111" stroke-width="0.4">2</text>
<line x1="476.20" y1="453.00" x2="479.60" y2="453.00" stroke="#2a2a2a" stroke-width="1.1"/>
<text x="475.80" y="455.23" font-size="6.2" font-weight="bold" text-anchor="end" fill="#111" stroke="#111" stroke-width="0.4">0</text>
<text x="492.50" y="463.00" font-size="6.0" font-weight="bold" text-anchor="end" fill="#111" stroke="#111" stroke-width="0.4" transform="rotate(-45 492.50 463.00)">pCDH-flag</text>
<text x="508.10" y="463.00" font-size="6.0" font-weight="bold" text-anchor="end" fill="#111" stroke="#111" stroke-width="0.4" transform="rotate(-45 508.10 463.00)">pCDH-M6PR</text>
<line x1="479.60" y1="453.00" x2="516.00" y2="453.00" stroke="#2a2a2a" stroke-width="1.1"/>
<line x1="489.45" y1="453.00" x2="489.45" y2="455.50" stroke="#2a2a2a" stroke-width="1.1"/>
<line x1="505.10" y1="453.00" x2="505.10" y2="455.50" stroke="#2a2a2a" stroke-width="1.1"/>
<rect x="485.05" y="393.35" width="8.80" height="59.65" fill="#9c88c8" stroke="#2b1f5c" stroke-width="1.7"/>
<line x1="489.45" y1="375.50" x2="489.45" y2="409.60" stroke="#2b1f5c" stroke-width="0.8"/>
<line x1="487.25" y1="375.50" x2="491.65" y2="375.50" stroke="#2b1f5c" stroke-width="0.8"/>
<line x1="487.25" y1="409.60" x2="491.65" y2="409.60" stroke="#2b1f5c" stroke-width="0.8"/>
<rect x="500.65" y="418.15" width="8.90" height="34.85" fill="#36b5ee" stroke="#1d4f9f" stroke-width="1.7"/>
<line x1="505.10" y1="401.80" x2="505.10" y2="431.80" stroke="#1d4f9f" stroke-width="0.8"/>
<line x1="502.90" y1="401.80" x2="507.30" y2="401.80" stroke="#1d4f9f" stroke-width="0.8"/>
<line x1="502.90" y1="431.80" x2="507.30" y2="431.80" stroke="#1d4f9f" stroke-width="0.8"/>
<path d="M489.30,368.90 L489.30,364.30 L505.30,364.30 L505.30,396.50" stroke="#333" stroke-width="0.9" fill="none" />
<text x="497.30" y="360.42" font-size="5.9" font-weight="normal" text-anchor="middle" fill="#222" stroke="#222" stroke-width="0.1">0.2661</text>
<text transform="translate(463.30,408.80) rotate(-90)" font-size="6.1" font-weight="bold" text-anchor="middle" fill="#111" stroke="#111" stroke-width="0.4" y="2.2">IC<tspan font-size="4.2" dy="1.2">50</tspan><tspan dy="-1.2"> Value</tspan></text>
<text transform="translate(3.00,519.50) scale(0.96,1)" font-size="12.2" font-weight="bold" fill="#000" stroke="#000" stroke-width="0.3">h</text>
<text x="95.60" y="527.16" font-size="7.4" font-weight="bold" text-anchor="middle" fill="#111" stroke="#111" stroke-width="0.22">JIMT-1</text>
<line x1="59.50" y1="567.80" x2="59.50" y2="651.50" stroke="#2a2a2a" stroke-width="1.1"/>
<line x1="56.00" y1="567.80" x2="59.50" y2="567.80" stroke="#2a2a2a" stroke-width="1.1"/>
<text x="54.70" y="570.25" font-size="6.8" font-weight="bold" text-anchor="end" fill="#111" stroke="#111" stroke-width="0.4">0.3</text>
<line x1="56.00" y1="595.70" x2="59.50" y2="595.70" stroke="#2a2a2a" stroke-width="1.1"/>
<text x="54.70" y="598.15" font-size="6.8" font-weight="bold" text-anchor="end" fill="#111" stroke="#111" stroke-width="0.4">0.2</text>
<line x1="56.00" y1="623.60" x2="59.50" y2="623.60" stroke="#2a2a2a" stroke-width="1.1"/>
<text x="54.70" y="626.05" font-size="6.8" font-weight="bold" text-anchor="end" fill="#111" stroke="#111" stroke-width="0.4">0.1</text>
<line x1="56.00" y1="651.50" x2="59.50" y2="651.50" stroke="#2a2a2a" stroke-width="1.1"/>
<text x="54.70" y="653.95" font-size="6.8" font-weight="bold" text-anchor="end" fill="#111" stroke="#111" stroke-width="0.4">0.0</text>
<text x="36.78" y="604.60" font-size="6.6" font-weight="bold" text-anchor="middle" fill="#111" stroke="#111" stroke-width="0.4" transform="rotate(-90 36.78 604.60)">MNX1 Relative expression</text>
<line x1="59.50" y1="651.50" x2="125.50" y2="651.50" stroke="#2a2a2a" stroke-width="1.1"/>
<line x1="69.30" y1="651.50" x2="69.30" y2="654.00" stroke="#2a2a2a" stroke-width="1.1"/>
<line x1="84.70" y1="651.50" x2="84.70" y2="654.00" stroke="#2a2a2a" stroke-width="1.1"/>
<line x1="100.00" y1="651.50" x2="100.00" y2="654.00" stroke="#2a2a2a" stroke-width="1.1"/>
<line x1="115.40" y1="651.50" x2="115.40" y2="654.00" stroke="#2a2a2a" stroke-width="1.1"/>
<rect x="64.10" y="650.60" width="10.40" height="0.90" fill="#9c88c8" stroke="#2b1f5c" stroke-width="1.0"/>
<rect x="80.25" y="585.85" width="8.90" height="65.65" fill="#36b5ee" stroke="#1d4f9f" stroke-width="1.7"/>
<line x1="84.70" y1="580.40" x2="84.70" y2="589.10" stroke="#1d4f9f" stroke-width="0.8"/>
<line x1="82.10" y1="580.40" x2="87.30" y2="580.40" stroke="#1d4f9f" stroke-width="0.8"/>
<line x1="82.10" y1="589.10" x2="87.30" y2="589.10" stroke="#1d4f9f" stroke-width="0.8"/>
<rect x="94.80" y="650.60" width="10.40" height="0.90" fill="#4cb6b8" stroke="#1b5f66" stroke-width="1.0"/>
<rect x="111.05" y="587.85" width="8.70" height="63.65" fill="#f4a07e" stroke="#e4541e" stroke-width="1.7"/>
<line x1="115.40" y1="579.50" x2="115.40" y2="595.20" stroke="#e4541e" stroke-width="0.8"/>
<line x1="112.80" y1="579.50" x2="118.00" y2="579.50" stroke="#e4541e" stroke-width="0.8"/>
<line x1="112.80" y1="595.20" x2="118.00" y2="595.20" stroke="#e4541e" stroke-width="0.8"/>
<path d="M69.30,650.00 L69.30,569.40 L84.90,569.40 L84.90,576.20" stroke="#2e2e2e" stroke-width="0.9" fill="none" />
<text x="77.10" y="566.12" font-size="5.9" font-weight="normal" text-anchor="middle" fill="#222" stroke="#222" stroke-width="0.1">&lt;0.0001</text>
<path d="M100.00,650.00 L100.00,569.40 L115.20,569.40 L115.20,575.30" stroke="#2e2e2e" stroke-width="0.9" fill="none" />
<text x="107.60" y="566.12" font-size="5.9" font-weight="normal" text-anchor="middle" fill="#222" stroke="#222" stroke-width="0.1">&lt;0.0001</text>
<path d="M84.90,557.70 L84.90,553.00 L115.20,553.00 L115.20,557.70" stroke="#2e2e2e" stroke-width="0.9" fill="none" />
<text x="100.05" y="549.32" font-size="5.9" font-weight="normal" text-anchor="middle" fill="#222" stroke="#222" stroke-width="0.1">0.9773</text>
<text x="71.60" y="660.50" font-size="5.9" font-weight="bold" text-anchor="end" fill="#111" stroke="#111" stroke-width="0.4" transform="rotate(-45 71.60 660.50)">pCDH-flag+shscr</text>
<text x="87.00" y="660.50" font-size="5.9" font-weight="bold" text-anchor="end" fill="#111" stroke="#111" stroke-width="0.4" transform="rotate(-45 87.00 660.50)">pCDH-MNX1+shscr</text>
<text x="102.30" y="660.50" font-size="5.9" font-weight="bold" text-anchor="end" fill="#111" stroke="#111" stroke-width="0.4" transform="rotate(-45 102.30 660.50)">pCDH-flag+M6PR sh2</text>
<text x="117.70" y="660.50" font-size="5.9" font-weight="bold" text-anchor="end" fill="#111" stroke="#111" stroke-width="0.4" transform="rotate(-45 117.70 660.50)">pCDH-MNX1+M6PR sh2</text>
<text x="202.00" y="526.26" font-size="7.4" font-weight="bold" text-anchor="middle" fill="#111" stroke="#111" stroke-width="0.22">JIMT-1</text>
<line x1="170.40" y1="565.60" x2="170.40" y2="649.30" stroke="#2a2a2a" stroke-width="1.1"/>
<line x1="166.90" y1="565.60" x2="170.40" y2="565.60" stroke="#2a2a2a" stroke-width="1.1"/>
<text x="166.30" y="567.76" font-size="6.0" font-weight="bold" text-anchor="end" fill="#111" stroke="#111" stroke-width="0.4">0.15</text>
<line x1="166.90" y1="593.50" x2="170.40" y2="593.50" stroke="#2a2a2a" stroke-width="1.1"/>
<text x="166.30" y="595.66" font-size="6.0" font-weight="bold" text-anchor="end" fill="#111" stroke="#111" stroke-width="0.4">0.10</text>
<line x1="166.90" y1="621.40" x2="170.40" y2="621.40" stroke="#2a2a2a" stroke-width="1.1"/>
<text x="166.30" y="623.56" font-size="6.0" font-weight="bold" text-anchor="end" fill="#111" stroke="#111" stroke-width="0.4">0.05</text>
<line x1="166.90" y1="649.30" x2="170.40" y2="649.30" stroke="#2a2a2a" stroke-width="1.1"/>
<text x="166.30" y="651.46" font-size="6.0" font-weight="bold" text-anchor="end" fill="#111" stroke="#111" stroke-width="0.4">0.00</text>
<text x="143.38" y="602.00" font-size="6.6" font-weight="bold" text-anchor="middle" fill="#111" stroke="#111" stroke-width="0.4" transform="rotate(-90 143.38 602.00)">M6PR Relative expression</text>
<line x1="170.40" y1="649.30" x2="236.40" y2="649.30" stroke="#2a2a2a" stroke-width="1.1"/>
<line x1="180.50" y1="649.30" x2="180.50" y2="651.80" stroke="#2a2a2a" stroke-width="1.1"/>
<line x1="195.30" y1="649.30" x2="195.30" y2="651.80" stroke="#2a2a2a" stroke-width="1.1"/>
<line x1="210.30" y1="649.30" x2="210.30" y2="651.80" stroke="#2a2a2a" stroke-width="1.1"/>
<line x1="225.20" y1="649.30" x2="225.20" y2="651.80" stroke="#2a2a2a" stroke-width="1.1"/>
<rect x="176.15" y="619.65" width="8.70" height="29.65" fill="#9c88c8" stroke="#2b1f5c" stroke-width="1.7"/>
<line x1="180.50" y1="615.00" x2="180.50" y2="623.00" stroke="#2b1f5c" stroke-width="0.8"/>
<line x1="178.10" y1="615.00" x2="182.90" y2="615.00" stroke="#2b1f5c" stroke-width="0.8"/>
<line x1="178.10" y1="623.00" x2="182.90" y2="623.00" stroke="#2b1f5c" stroke-width="0.8"/>
<rect x="190.95" y="597.85" width="8.70" height="51.45" fill="#36b5ee" stroke="#1d4f9f" stroke-width="1.7"/>
<line x1="195.30" y1="595.50" x2="195.30" y2="599.00" stroke="#1d4f9f" stroke-width="0.8"/>
<line x1="192.90" y1="595.50" x2="197.70" y2="595.50" stroke="#1d4f9f" stroke-width="0.8"/>
<line x1="192.90" y1="599.00" x2="197.70" y2="599.00" stroke="#1d4f9f" stroke-width="0.8"/>
<rect x="205.95" y="646.55" width="8.70" height="2.75" fill="#4cb6b8" stroke="#1b5f66" stroke-width="1.7"/>
<rect x="220.85" y="644.15" width="8.70" height="5.15" fill="#f4a07e" stroke="#e4541e" stroke-width="1.7"/>
<line x1="225.20" y1="641.50" x2="225.20" y2="645.50" stroke="#e4541e" stroke-width="0.8"/>
<line x1="222.80" y1="641.50" x2="227.60" y2="641.50" stroke="#e4541e" stroke-width="0.8"/>
<line x1="222.80" y1="645.50" x2="227.60" y2="645.50" stroke="#e4541e" stroke-width="0.8"/>
<path d="M180.20,609.90 L180.20,585.50 L195.30,585.50 L195.30,589.70" stroke="#2e2e2e" stroke-width="0.9" fill="none" />
<text x="187.75" y="581.72" font-size="5.9" font-weight="normal" text-anchor="middle" fill="#222" stroke="#222" stroke-width="0.1">&lt;0.0001</text>
<path d="M210.50,639.40 L210.50,585.50 L226.40,585.50 L226.40,636.90" stroke="#2e2e2e" stroke-width="0.9" fill="none" />
<text x="218.45" y="581.72" font-size="5.9" font-weight="normal" text-anchor="middle" fill="#222" stroke="#222" stroke-width="0.1">0.7517</text>
<path d="M195.30,572.90 L195.30,568.70 L226.40,568.70 L226.40,573.70" stroke="#2e2e2e" stroke-width="0.9" fill="none" />
<text x="210.85" y="564.92" font-size="5.9" font-weight="normal" text-anchor="middle" fill="#222" stroke="#222" stroke-width="0.1">&lt;0.0001</text>
<path d="M180.20,572.90 L180.20,551.80 L210.50,551.80 L210.50,556.90" stroke="#2e2e2e" stroke-width="0.9" fill="none" />
<text x="195.35" y="548.52" font-size="5.9" font-weight="normal" text-anchor="middle" fill="#222" stroke="#222" stroke-width="0.1">&lt;0.0001</text>
<text x="182.70" y="658.70" font-size="5.9" font-weight="bold" text-anchor="end" fill="#111" stroke="#111" stroke-width="0.4" transform="rotate(-45 182.70 658.70)">pCDH-flag+shscr</text>
<text x="197.50" y="658.70" font-size="5.9" font-weight="bold" text-anchor="end" fill="#111" stroke="#111" stroke-width="0.4" transform="rotate(-45 197.50 658.70)">pCDH-MNX1+shscr</text>
<text x="212.50" y="658.70" font-size="5.9" font-weight="bold" text-anchor="end" fill="#111" stroke="#111" stroke-width="0.4" transform="rotate(-45 212.50 658.70)">pCDH-flag+M6PR sh2</text>
<text x="227.40" y="658.70" font-size="5.9" font-weight="bold" text-anchor="end" fill="#111" stroke="#111" stroke-width="0.4" transform="rotate(-45 227.40 658.70)">pCDH-MNX1+M6PR sh2</text>
<text transform="translate(266.50,519.50) scale(0.96,1)" font-size="12.2" font-weight="bold" fill="#000" stroke="#000" stroke-width="0.3">i</text>
<text x="380.00" y="526.06" font-size="7.4" font-weight="bold" text-anchor="middle" fill="#111" stroke="#111" stroke-width="0.22">JIMT-1</text>
<line x1="311.30" y1="552.30" x2="311.30" y2="648.00" stroke="#2a2a2a" stroke-width="1.1"/>
<line x1="307.80" y1="552.30" x2="311.30" y2="552.30" stroke="#2a2a2a" stroke-width="1.1"/>
<text x="306.50" y="554.75" font-size="6.8" font-weight="bold" text-anchor="end" fill="#111" stroke="#111" stroke-width="0.4">100</text>
<line x1="307.80" y1="600.15" x2="311.30" y2="600.15" stroke="#2a2a2a" stroke-width="1.1"/>
<text x="306.50" y="602.60" font-size="6.8" font-weight="bold" text-anchor="end" fill="#111" stroke="#111" stroke-width="0.4">50</text>
<line x1="307.80" y1="648.00" x2="311.30" y2="648.00" stroke="#2a2a2a" stroke-width="1.1"/>
<text x="306.50" y="650.45" font-size="6.8" font-weight="bold" text-anchor="end" fill="#111" stroke="#111" stroke-width="0.4">0</text>
<line x1="311.30" y1="648.00" x2="454.70" y2="648.00" stroke="#2a2a2a" stroke-width="1.1"/>
<line x1="311.30" y1="648.00" x2="311.30" y2="651.00" stroke="#2a2a2a" stroke-width="1.1"/>
<line x1="359.10" y1="648.00" x2="359.10" y2="651.00" stroke="#2a2a2a" stroke-width="1.1"/>
<line x1="406.90" y1="648.00" x2="406.90" y2="651.00" stroke="#2a2a2a" stroke-width="1.1"/>
<line x1="454.70" y1="648.00" x2="454.70" y2="651.00" stroke="#2a2a2a" stroke-width="1.1"/>
<text x="306.05" y="660.40" font-size="6.4" font-weight="bold" fill="#111" stroke="#111" stroke-width="0.2">10</text>
<text x="314.16" y="658.00" font-size="4.3" font-weight="bold" fill="#111" stroke="#111" stroke-width="0.15">1</text>
<text x="353.85" y="660.40" font-size="6.4" font-weight="bold" fill="#111" stroke="#111" stroke-width="0.2">10</text>
<text x="361.96" y="658.00" font-size="4.3" font-weight="bold" fill="#111" stroke="#111" stroke-width="0.15">2</text>
<text x="401.65" y="660.40" font-size="6.4" font-weight="bold" fill="#111" stroke="#111" stroke-width="0.2">10</text>
<text x="409.76" y="658.00" font-size="4.3" font-weight="bold" fill="#111" stroke="#111" stroke-width="0.15">3</text>
<text x="449.45" y="660.40" font-size="6.4" font-weight="bold" fill="#111" stroke="#111" stroke-width="0.2">10</text>
<text x="457.56" y="658.00" font-size="4.3" font-weight="bold" fill="#111" stroke="#111" stroke-width="0.15">4</text>
<text x="296.52" y="601.50" font-size="7.0" font-weight="bold" text-anchor="middle" fill="#111" stroke="#111" stroke-width="0.4" transform="rotate(-90 296.52 601.50)">Cell Viability (%)</text>
<text x="383.70" y="670.38" font-size="6.6" font-weight="bold" text-anchor="middle" fill="#111" stroke="#111" stroke-width="0.4">Concentration(nM),Lapatinib</text>
<path d="M359.10,562.64 L359.99,562.89 L360.89,563.15 L361.78,563.44 L362.68,563.74 L363.57,564.06 L364.46,564.40 L365.36,564.76 L366.25,565.14 L367.14,565.54 L368.04,565.97 L368.93,566.42 L369.83,566.90 L370.72,567.40 L371.61,567.92 L372.51,568.47 L373.40,569.05 L374.29,569.66 L375.19,570.29 L376.08,570.94 L376.98,571.63 L377.87,572.33 L378.76,573.07 L379.66,573.82 L380.55,574.60 L381.44,575.41 L382.34,576.23 L383.23,577.07 L384.13,577.93 L385.02,578.81 L385.91,579.69 L386.81,580.59 L387.70,581.50 L388.59,582.41 L389.49,583.33 L390.38,584.25 L391.28,585.17 L392.17,586.08 L393.06,586.99 L393.96,587.88 L394.85,588.77 L395.74,589.64 L396.64,590.50 L397.53,591.34 L398.43,592.16 L399.32,592.96 L400.21,593.73 L401.11,594.49 L402.00,595.22 L402.89,595.92 L403.79,596.60 L404.68,597.25 L405.58,597.88 L406.47,598.48 L407.36,599.05 L408.26,599.60 L409.15,600.12 L410.04,600.62 L410.94,601.09 L411.83,601.54 L412.73,601.96 L413.62,602.36 L414.51,602.74 L415.41,603.10 L416.30,603.44 L417.19,603.75 L418.09,604.05 L418.98,604.33 L419.88,604.60 L420.77,604.84 L421.66,605.08 L422.56,605.29 L423.45,605.50 L424.34,605.69 L425.24,605.86 L426.13,606.03 L427.03,606.19 L427.92,606.33 L428.81,606.47 L429.71,606.59" stroke="#3fb0b0" stroke-width="1.0" fill="none" />
<path d="M359.10,567.57 L359.99,567.92 L360.89,568.30 L361.78,568.69 L362.68,569.10 L363.57,569.52 L364.46,569.96 L365.36,570.42 L366.25,570.90 L367.14,571.39 L368.04,571.91 L368.93,572.44 L369.83,572.99 L370.72,573.55 L371.61,574.14 L372.51,574.74 L373.40,575.36 L374.29,576.00 L375.19,576.65 L376.08,577.32 L376.98,578.01 L377.87,578.71 L378.76,579.43 L379.66,580.16 L380.55,580.90 L381.44,581.66 L382.34,582.42 L383.23,583.20 L384.13,583.98 L385.02,584.78 L385.91,585.57 L386.81,586.38 L387.70,587.18 L388.59,587.99 L389.49,588.80 L390.38,589.61 L391.28,590.42 L392.17,591.22 L393.06,592.02 L393.96,592.82 L394.85,593.61 L395.74,594.38 L396.64,595.15 L397.53,595.91 L398.43,596.66 L399.32,597.39 L400.21,598.12 L401.11,598.82 L402.00,599.51 L402.89,600.19 L403.79,600.85 L404.68,601.49 L405.58,602.12 L406.47,602.73 L407.36,603.32 L408.26,603.89 L409.15,604.45 L410.04,604.98 L410.94,605.50 L411.83,606.00 L412.73,606.48 L413.62,606.95 L414.51,607.40 L415.41,607.83 L416.30,608.24 L417.19,608.63 L418.09,609.02 L418.98,609.38 L419.88,609.73 L420.77,610.06 L421.66,610.38 L422.56,610.69 L423.45,610.98 L424.34,611.25 L425.24,611.52 L426.13,611.77 L427.03,612.01 L427.92,612.24 L428.81,612.46 L429.71,612.67" stroke="#9a86c8" stroke-width="1.0" fill="none" />
<path d="M359.10,568.86 L359.99,569.36 L360.89,569.87 L361.78,570.40 L362.68,570.95 L363.57,571.52 L364.46,572.10 L365.36,572.69 L366.25,573.31 L367.14,573.93 L368.04,574.57 L368.93,575.23 L369.83,575.90 L370.72,576.58 L371.61,577.27 L372.51,577.98 L373.40,578.70 L374.29,579.42 L375.19,580.16 L376.08,580.90 L376.98,581.65 L377.87,582.41 L378.76,583.17 L379.66,583.93 L380.55,584.70 L381.44,585.47 L382.34,586.24 L383.23,587.01 L384.13,587.78 L385.02,588.54 L385.91,589.30 L386.81,590.05 L387.70,590.80 L388.59,591.54 L389.49,592.27 L390.38,592.99 L391.28,593.70 L392.17,594.40 L393.06,595.09 L393.96,595.76 L394.85,596.43 L395.74,597.07 L396.64,597.71 L397.53,598.33 L398.43,598.93 L399.32,599.52 L400.21,600.09 L401.11,600.65 L402.00,601.19 L402.89,601.71 L403.79,602.22 L404.68,602.71 L405.58,603.18 L406.47,603.64 L407.36,604.08 L408.26,604.51 L409.15,604.92 L410.04,605.32 L410.94,605.70 L411.83,606.06 L412.73,606.41 L413.62,606.75 L414.51,607.08 L415.41,607.39 L416.30,607.68 L417.19,607.97 L418.09,608.24 L418.98,608.50 L419.88,608.75 L420.77,608.99 L421.66,609.22 L422.56,609.43 L423.45,609.64 L424.34,609.84 L425.24,610.03 L426.13,610.21 L427.03,610.38 L427.92,610.54 L428.81,610.69 L429.71,610.84" stroke="#f2825a" stroke-width="1.0" fill="none" />
<path d="M359.10,573.56 L359.99,574.48 L360.89,575.39 L361.78,576.29 L362.68,577.17 L363.57,578.04 L364.46,578.90 L365.36,579.74 L366.25,580.56 L367.14,581.38 L368.04,582.17 L368.93,582.96 L369.83,583.73 L370.72,584.48 L371.61,585.22 L372.51,585.95 L373.40,586.66 L374.29,587.35 L375.19,588.04 L376.08,588.70 L376.98,589.36 L377.87,590.00 L378.76,590.63 L379.66,591.24 L380.55,591.84 L381.44,592.43 L382.34,593.00 L383.23,593.56 L384.13,594.11 L385.02,594.65 L385.91,595.17 L386.81,595.68 L387.70,596.18 L388.59,596.66 L389.49,597.14 L390.38,597.60 L391.28,598.05 L392.17,598.49 L393.06,598.92 L393.96,599.34 L394.85,599.75 L395.74,600.15 L396.64,600.53 L397.53,600.91 L398.43,601.28 L399.32,601.63 L400.21,601.98 L401.11,602.32 L402.00,602.65 L402.89,602.97 L403.79,603.29 L404.68,603.59 L405.58,603.89 L406.47,604.17 L407.36,604.45 L408.26,604.73 L409.15,604.99 L410.04,605.25 L410.94,605.50 L411.83,605.74 L412.73,605.98 L413.62,606.21 L414.51,606.43 L415.41,606.65 L416.30,606.86 L417.19,607.07 L418.09,607.26 L418.98,607.46 L419.88,607.64 L420.77,607.83 L421.66,608.00 L422.56,608.18 L423.45,608.34 L424.34,608.51 L425.24,608.66 L426.13,608.81 L427.03,608.96 L427.92,609.11 L428.81,609.25 L429.71,609.38" stroke="#2bb3e3" stroke-width="1.0" fill="none" />
<line x1="359.10" y1="557.40" x2="359.10" y2="565.40" stroke="#2a7a7a" stroke-width="0.7"/>
<line x1="357.30" y1="557.40" x2="360.90" y2="557.40" stroke="#2a7a7a" stroke-width="0.7"/>
<line x1="357.30" y1="565.40" x2="360.90" y2="565.40" stroke="#2a7a7a" stroke-width="0.7"/>
<line x1="373.49" y1="568.70" x2="373.49" y2="574.70" stroke="#2a7a7a" stroke-width="0.7"/>
<line x1="371.69" y1="568.70" x2="375.29" y2="568.70" stroke="#2a7a7a" stroke-width="0.7"/>
<line x1="371.69" y1="574.70" x2="375.29" y2="574.70" stroke="#2a7a7a" stroke-width="0.7"/>
<line x1="381.91" y1="572.30" x2="381.91" y2="578.30" stroke="#2a7a7a" stroke-width="0.7"/>
<line x1="380.11" y1="572.30" x2="383.71" y2="572.30" stroke="#2a7a7a" stroke-width="0.7"/>
<line x1="380.11" y1="578.30" x2="383.71" y2="578.30" stroke="#2a7a7a" stroke-width="0.7"/>
<line x1="392.51" y1="581.30" x2="392.51" y2="587.30" stroke="#2a7a7a" stroke-width="0.7"/>
<line x1="390.71" y1="581.30" x2="394.31" y2="581.30" stroke="#2a7a7a" stroke-width="0.7"/>
<line x1="390.71" y1="587.30" x2="394.31" y2="587.30" stroke="#2a7a7a" stroke-width="0.7"/>
<line x1="406.90" y1="598.60" x2="406.90" y2="602.60" stroke="#2a7a7a" stroke-width="0.7"/>
<line x1="405.10" y1="598.60" x2="408.70" y2="598.60" stroke="#2a7a7a" stroke-width="0.7"/>
<line x1="405.10" y1="602.60" x2="408.70" y2="602.60" stroke="#2a7a7a" stroke-width="0.7"/>
<line x1="359.10" y1="565.10" x2="359.10" y2="569.10" stroke="#3a2d6a" stroke-width="0.7"/>
<line x1="357.30" y1="565.10" x2="360.90" y2="565.10" stroke="#3a2d6a" stroke-width="0.7"/>
<line x1="357.30" y1="569.10" x2="360.90" y2="569.10" stroke="#3a2d6a" stroke-width="0.7"/>
<line x1="373.49" y1="574.90" x2="373.49" y2="578.90" stroke="#3a2d6a" stroke-width="0.7"/>
<line x1="371.69" y1="574.90" x2="375.29" y2="574.90" stroke="#3a2d6a" stroke-width="0.7"/>
<line x1="371.69" y1="578.90" x2="375.29" y2="578.90" stroke="#3a2d6a" stroke-width="0.7"/>
<line x1="381.91" y1="579.00" x2="381.91" y2="583.00" stroke="#3a2d6a" stroke-width="0.7"/>
<line x1="380.11" y1="579.00" x2="383.71" y2="579.00" stroke="#3a2d6a" stroke-width="0.7"/>
<line x1="380.11" y1="583.00" x2="383.71" y2="583.00" stroke="#3a2d6a" stroke-width="0.7"/>
<path d="M359.10,559.00 L361.50,563.32 L356.70,563.32Z" fill="#3fb0b0"/>
<path d="M373.49,569.30 L375.89,573.62 L371.09,573.62Z" fill="#3fb0b0"/>
<path d="M381.91,572.90 L384.31,577.22 L379.51,577.22Z" fill="#3fb0b0"/>
<path d="M392.51,581.90 L394.91,586.22 L390.11,586.22Z" fill="#3fb0b0"/>
<path d="M406.90,598.20 L409.30,602.52 L404.50,602.52Z" fill="#3fb0b0"/>
<path d="M415.32,601.50 L417.72,605.82 L412.92,605.82Z" fill="#3fb0b0"/>
<path d="M421.29,602.30 L423.69,606.62 L418.89,606.62Z" fill="#3fb0b0"/>
<path d="M425.92,603.10 L428.32,607.42 L423.52,607.42Z" fill="#3fb0b0"/>
<path d="M429.71,603.60 L432.11,607.92 L427.31,607.92Z" fill="#3fb0b0"/>
<circle cx="359.10" cy="567.10" r="2.20" fill="#9a80c8"/>
<circle cx="373.49" cy="576.90" r="2.20" fill="#9a80c8"/>
<circle cx="381.91" cy="581.00" r="2.20" fill="#9a80c8"/>
<circle cx="392.51" cy="591.10" r="2.20" fill="#9a80c8"/>
<circle cx="406.90" cy="603.90" r="2.20" fill="#9a80c8"/>
<circle cx="415.32" cy="607.70" r="2.20" fill="#9a80c8"/>
<circle cx="421.29" cy="610.10" r="2.20" fill="#9a80c8"/>
<circle cx="425.92" cy="611.30" r="2.20" fill="#9a80c8"/>
<circle cx="429.71" cy="612.90" r="2.20" fill="#9a80c8"/>
<path d="M359.10,571.16 L361.26,567.27 L356.94,567.27Z" fill="#f2825a"/>
<path d="M373.49,580.16 L375.65,576.27 L371.33,576.27Z" fill="#f2825a"/>
<path d="M381.91,589.16 L384.07,585.27 L379.75,585.27Z" fill="#f2825a"/>
<path d="M392.51,596.16 L394.67,592.27 L390.35,592.27Z" fill="#f2825a"/>
<path d="M406.90,606.16 L409.06,602.27 L404.74,602.27Z" fill="#f2825a"/>
<path d="M415.32,609.66 L417.48,605.77 L413.16,605.77Z" fill="#f2825a"/>
<path d="M421.29,611.16 L423.45,607.27 L419.13,607.27Z" fill="#f2825a"/>
<path d="M425.92,612.16 L428.08,608.27 L423.76,608.27Z" fill="#f2825a"/>
<path d="M429.71,613.16 L431.87,609.27 L427.55,609.27Z" fill="#f2825a"/>
<rect x="357.10" y="571.60" width="4.00" height="4.00" fill="#31b3ec"/>
<rect x="371.49" y="583.90" width="4.00" height="4.00" fill="#31b3ec"/>
<rect x="379.91" y="592.90" width="4.00" height="4.00" fill="#31b3ec"/>
<rect x="390.51" y="594.50" width="4.00" height="4.00" fill="#31b3ec"/>
<rect x="404.90" y="602.70" width="4.00" height="4.00" fill="#31b3ec"/>
<rect x="413.32" y="605.20" width="4.00" height="4.00" fill="#31b3ec"/>
<rect x="419.29" y="606.00" width="4.00" height="4.00" fill="#31b3ec"/>
<rect x="423.92" y="607.60" width="4.00" height="4.00" fill="#31b3ec"/>
<rect x="427.71" y="606.30" width="4.00" height="4.00" fill="#31b3ec"/>
<line x1="482.50" y1="562.10" x2="482.50" y2="648.00" stroke="#2a2a2a" stroke-width="1.1"/>
<line x1="479.10" y1="562.10" x2="482.50" y2="562.10" stroke="#2a2a2a" stroke-width="1.1"/>
<text x="478.70" y="564.33" font-size="6.2" font-weight="bold" text-anchor="end" fill="#111" stroke="#111" stroke-width="0.4">500</text>
<line x1="479.10" y1="579.30" x2="482.50" y2="579.30" stroke="#2a2a2a" stroke-width="1.1"/>
<text x="478.70" y="581.53" font-size="6.2" font-weight="bold" text-anchor="end" fill="#111" stroke="#111" stroke-width="0.4">400</text>
<line x1="479.10" y1="596.50" x2="482.50" y2="596.50" stroke="#2a2a2a" stroke-width="1.1"/>
<text x="478.70" y="598.73" font-size="6.2" font-weight="bold" text-anchor="end" fill="#111" stroke="#111" stroke-width="0.4">300</text>
<line x1="479.10" y1="613.60" x2="482.50" y2="613.60" stroke="#2a2a2a" stroke-width="1.1"/>
<text x="478.70" y="615.83" font-size="6.2" font-weight="bold" text-anchor="end" fill="#111" stroke="#111" stroke-width="0.4">200</text>
<line x1="479.10" y1="630.80" x2="482.50" y2="630.80" stroke="#2a2a2a" stroke-width="1.1"/>
<text x="478.70" y="633.03" font-size="6.2" font-weight="bold" text-anchor="end" fill="#111" stroke="#111" stroke-width="0.4">100</text>
<line x1="479.10" y1="648.00" x2="482.50" y2="648.00" stroke="#2a2a2a" stroke-width="1.1"/>
<text x="478.70" y="650.23" font-size="6.2" font-weight="bold" text-anchor="end" fill="#111" stroke="#111" stroke-width="0.4">0</text>
<text x="493.20" y="658.50" font-size="5.9" font-weight="bold" text-anchor="end" fill="#111" stroke="#111" stroke-width="0.4" transform="rotate(-45 493.20 658.50)">pCDH-flag+shscr</text>
<text x="505.00" y="658.50" font-size="5.9" font-weight="bold" text-anchor="end" fill="#111" stroke="#111" stroke-width="0.4" transform="rotate(-45 505.00 658.50)">pCDH-MNX1+shscr</text>
<text x="516.90" y="658.50" font-size="5.9" font-weight="bold" text-anchor="end" fill="#111" stroke="#111" stroke-width="0.4" transform="rotate(-45 516.90 658.50)">pCDH-flag+M6PR sh2</text>
<text x="528.30" y="658.50" font-size="5.9" font-weight="bold" text-anchor="end" fill="#111" stroke="#111" stroke-width="0.4" transform="rotate(-45 528.30 658.50)">pCDH-MNX1+M6PR s h2</text>
<line x1="482.50" y1="648.00" x2="534.90" y2="648.00" stroke="#2a2a2a" stroke-width="1.1"/>
<line x1="491.50" y1="648.00" x2="491.50" y2="650.50" stroke="#2a2a2a" stroke-width="1.1"/>
<line x1="503.15" y1="648.00" x2="503.15" y2="650.50" stroke="#2a2a2a" stroke-width="1.1"/>
<line x1="514.90" y1="648.00" x2="514.90" y2="650.50" stroke="#2a2a2a" stroke-width="1.1"/>
<line x1="526.65" y1="648.00" x2="526.65" y2="650.50" stroke="#2a2a2a" stroke-width="1.1"/>
<rect x="488.05" y="585.95" width="6.90" height="62.05" fill="#9c88c8" stroke="#2b1f5c" stroke-width="1.7"/>
<line x1="491.50" y1="583.50" x2="491.50" y2="587.00" stroke="#2b1f5c" stroke-width="0.8"/>
<line x1="489.30" y1="583.50" x2="493.70" y2="583.50" stroke="#2b1f5c" stroke-width="0.8"/>
<line x1="489.30" y1="587.00" x2="493.70" y2="587.00" stroke="#2b1f5c" stroke-width="0.8"/>
<rect x="499.85" y="625.95" width="6.60" height="22.05" fill="#36b5ee" stroke="#1d4f9f" stroke-width="1.7"/>
<line x1="503.15" y1="622.20" x2="503.15" y2="628.50" stroke="#1d4f9f" stroke-width="0.8"/>
<line x1="500.95" y1="622.20" x2="505.35" y2="622.20" stroke="#1d4f9f" stroke-width="0.8"/>
<line x1="500.95" y1="628.50" x2="505.35" y2="628.50" stroke="#1d4f9f" stroke-width="0.8"/>
<rect x="511.75" y="580.85" width="6.30" height="67.15" fill="#4cb6b8" stroke="#1b5f66" stroke-width="1.7"/>
<rect x="523.15" y="608.95" width="7.00" height="39.05" fill="#f4a07e" stroke="#e4541e" stroke-width="1.7"/>
<line x1="526.65" y1="604.70" x2="526.65" y2="611.50" stroke="#e4541e" stroke-width="0.8"/>
<line x1="524.45" y1="604.70" x2="528.85" y2="604.70" stroke="#e4541e" stroke-width="0.8"/>
<line x1="524.45" y1="611.50" x2="528.85" y2="611.50" stroke="#e4541e" stroke-width="0.8"/>
<path d="M491.00,578.50 L491.00,569.80 L503.20,569.80 L503.20,619.00" stroke="#333" stroke-width="0.9" fill="none" />
<text x="497.10" y="566.12" font-size="5.9" font-weight="normal" text-anchor="middle" fill="#222" stroke="#222" stroke-width="0.1">0.0002</text>
<path d="M514.80,574.90 L514.80,569.80 L526.90,569.80 L526.90,599.60" stroke="#333" stroke-width="0.9" fill="none" />
<text x="520.85" y="566.12" font-size="5.9" font-weight="normal" text-anchor="middle" fill="#222" stroke="#222" stroke-width="0.1">0.0008</text>
<path d="M503.20,557.50 L503.20,552.80 L526.90,552.80 L526.90,557.50" stroke="#333" stroke-width="0.9" fill="none" />
<text x="515.05" y="548.62" font-size="5.9" font-weight="normal" text-anchor="middle" fill="#222" stroke="#222" stroke-width="0.1">0.0062</text>
<text transform="translate(463.00,605.00) rotate(-90)" font-size="6.1" font-weight="bold" text-anchor="middle" fill="#111" stroke="#111" stroke-width="0.4" y="2.2">IC<tspan font-size="4.2" dy="1.2">50</tspan><tspan dy="-1.2"> Value</tspan></text>
</svg></body></html>
